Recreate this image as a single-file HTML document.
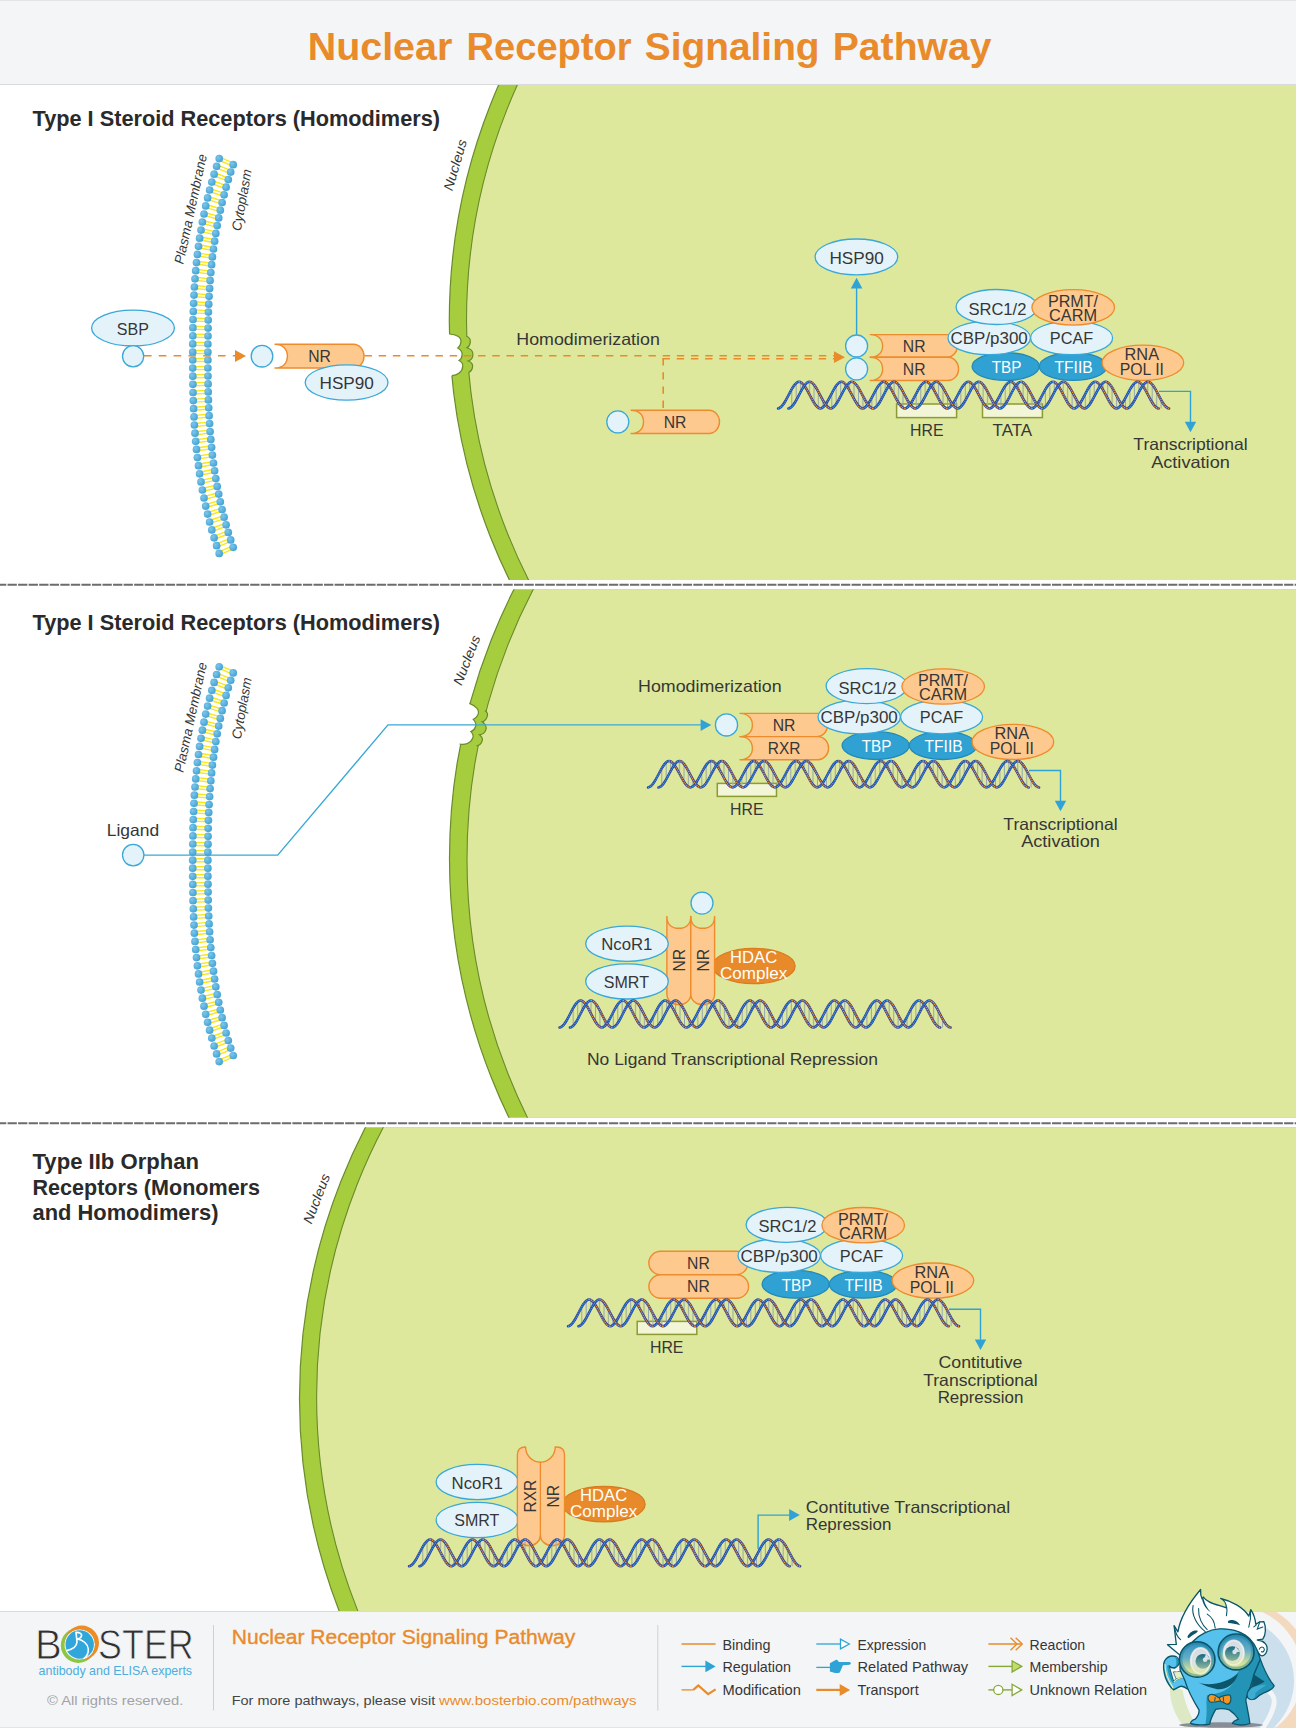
<!DOCTYPE html><html><head><meta charset="utf-8"><title>Nuclear Receptor Signaling Pathway</title><style>html,body{margin:0;padding:0;background:#fff}svg{display:block}</style></head><body><svg width="1296" height="1728" viewBox="0 0 1296 1728" font-family="Liberation Sans, sans-serif">
<defs><radialGradient id="hd" cx="0.35" cy="0.35" r="0.75"><stop offset="0" stop-color="#7cc6ea"/><stop offset="1" stop-color="#3d9fd3"/></radialGradient></defs>
<rect width="1296" height="1728" fill="#fff"/>
<rect x="0" y="0" width="1296" height="84" fill="#f4f5f7"/>
<rect x="0" y="0" width="1296" height="1" fill="#e3e4e6"/>
<rect x="0" y="84" width="1296" height="1" fill="#d9dadc"/>
<text x="307.7" y="60" font-size="39" font-weight="bold" fill="#e98b2a" textLength="144.6" lengthAdjust="spacingAndGlyphs">Nuclear</text>
<text x="466.6" y="60" font-size="39" font-weight="bold" fill="#e98b2a" textLength="165.0" lengthAdjust="spacingAndGlyphs">Receptor</text>
<text x="644.8" y="60" font-size="39" font-weight="bold" fill="#e98b2a" textLength="174.8" lengthAdjust="spacingAndGlyphs">Signaling</text>
<text x="832.8" y="60" font-size="39" font-weight="bold" fill="#e98b2a" textLength="158.6" lengthAdjust="spacingAndGlyphs">Pathway</text>
<line x1="-3" y1="584.7" x2="1296" y2="584.7" stroke="#6c6c6c" stroke-width="2.1" stroke-dasharray="9.3 1.25"/>
<line x1="-3" y1="1123.2" x2="1296" y2="1123.2" stroke="#6c6c6c" stroke-width="2.1" stroke-dasharray="9.3 1.25"/>
<clipPath id="c1"><rect x="0" y="85" width="1296" height="495"/></clipPath>
<g clip-path="url(#c1)">
<circle cx="1037.8" cy="320.8" r="588.5" fill="#a5cd3e" stroke="#6a8b2b" stroke-width="1.2"/>
<circle cx="1038.5" cy="320.7" r="572" fill="#dde89c" stroke="#6a8b2b" stroke-width="1.1"/>
</g>
<clipPath id="c2"><rect x="0" y="589.2" width="1296" height="528.5999999999999"/></clipPath>
<g clip-path="url(#c2)">
<circle cx="1043.5" cy="858.6" r="594" fill="#a5cd3e" stroke="#6a8b2b" stroke-width="1.2"/>
<circle cx="1049.3" cy="859.2" r="582.3" fill="#dde89c" stroke="#6a8b2b" stroke-width="1.1"/>
</g>
<clipPath id="c3"><rect x="0" y="1127.3" width="1296" height="484.10000000000014"/></clipPath>
<g clip-path="url(#c3)">
<circle cx="889.4" cy="1398.4" r="589.9" fill="#a5cd3e" stroke="#6a8b2b" stroke-width="1.2"/>
<circle cx="893.5" cy="1396.8" r="576.9" fill="#dde89c" stroke="#6a8b2b" stroke-width="1.1"/>
</g>
<g>
<path d="M449.3,334 C456,334.4 461.6,337 460.9,342.3 C460.5,345 459.2,347 457.8,348 C461,350 462.3,352 462.1,354.5 C462,357.2 461,359.3 459.1,360.5 C462,362 463,364 462.8,366.4 C462.5,372 457,375.2 451.9,375.7 L438,377 L438,333 Z" fill="#fff"/>
<path d="M449.3,334 C456,334.4 461.6,337 460.9,342.3 C460.5,345 459.2,347 457.8,348 C461,350 462.3,352 462.1,354.5 C462,357.2 461,359.3 459.1,360.5 C462,362 463,364 462.8,366.4 C462.5,372 457,375.2 451.9,375.7" fill="none" stroke="#6a8b2b" stroke-width="1.2"/>
<path d="M466.4,336.2 C469,337 470.6,339.5 470.3,342.1 C470,345 468.6,347 467,347.8 C471,349 473,351.5 472.9,354.5 C472.9,357.5 471,360 468.2,361 C471,362 472.8,364 472.6,366.4 C472.4,369.5 470.6,371.5 468.7,372.4 L464,372.4 L463,336.2 Z" fill="#a5cd3e"/>
<path d="M466.4,336.2 C469,337 470.6,339.5 470.3,342.1 C470,345 468.6,347 467,347.8 C471,349 473,351.5 472.9,354.5 C472.9,357.5 471,360 468.2,361 C471,362 472.8,364 472.6,366.4 C472.4,369.5 470.6,371.5 468.7,372.4" fill="none" stroke="#6a8b2b" stroke-width="1.2"/>
</g>
<g transform="translate(472,726.2) rotate(17) translate(-458.6,-355)">
<path d="M449.3,334 C456,334.4 461.6,337 460.9,342.3 C460.5,345 459.2,347 457.8,348 C461,350 462.3,352 462.1,354.5 C462,357.2 461,359.3 459.1,360.5 C462,362 463,364 462.8,366.4 C462.5,372 457,375.2 451.9,375.7 L438,377 L438,333 Z" fill="#fff"/>
<path d="M449.3,334 C456,334.4 461.6,337 460.9,342.3 C460.5,345 459.2,347 457.8,348 C461,350 462.3,352 462.1,354.5 C462,357.2 461,359.3 459.1,360.5 C462,362 463,364 462.8,366.4 C462.5,372 457,375.2 451.9,375.7" fill="none" stroke="#6a8b2b" stroke-width="1.2"/>
<path d="M466.4,336.2 C469,337 470.6,339.5 470.3,342.1 C470,345 468.6,347 467,347.8 C471,349 473,351.5 472.9,354.5 C472.9,357.5 471,360 468.2,361 C471,362 472.8,364 472.6,366.4 C472.4,369.5 470.6,371.5 468.7,372.4 L464,372.4 L463,336.2 Z" fill="#a5cd3e"/>
<path d="M466.4,336.2 C469,337 470.6,339.5 470.3,342.1 C470,345 468.6,347 467,347.8 C471,349 473,351.5 472.9,354.5 C472.9,357.5 471,360 468.2,361 C471,362 472.8,364 472.6,366.4 C472.4,369.5 470.6,371.5 468.7,372.4" fill="none" stroke="#6a8b2b" stroke-width="1.2"/>
</g>
<text x="32.5" y="126.0" font-size="22"  fill="#2a2a2a" textLength="407.5" lengthAdjust="spacingAndGlyphs" font-weight="bold" >Type I Steroid Receptors (Homodimers)</text>
<text x="32.5" y="630.0" font-size="22"  fill="#2a2a2a" textLength="407.5" lengthAdjust="spacingAndGlyphs" font-weight="bold" >Type I Steroid Receptors (Homodimers)</text>
<text x="32.5" y="1169.0" font-size="22"  fill="#2a2a2a" textLength="166.5" lengthAdjust="spacingAndGlyphs" font-weight="bold" >Type IIb Orphan</text>
<text x="32.5" y="1194.5" font-size="22"  fill="#2a2a2a" textLength="227.5" lengthAdjust="spacingAndGlyphs" font-weight="bold" >Receptors (Monomers</text>
<text x="32.5" y="1220.0" font-size="22"  fill="#2a2a2a" textLength="186.0" lengthAdjust="spacingAndGlyphs" font-weight="bold" >and Homodimers)</text>
<path d="M219.7,157.1L233.7,163.3M218.7,160.0L232.7,166.1M217.0,164.9L231.1,170.7M216.1,167.8L230.2,173.6M214.5,172.7L228.8,178.2M213.7,175.6L227.9,181.1M212.2,180.6L226.5,185.8M211.4,183.5L225.7,188.7M210.0,188.6L224.4,193.4M209.2,191.5L223.7,196.3M207.9,196.5L222.5,201.0M207.2,199.4L221.8,203.9M206.0,204.5L220.7,208.7M205.4,207.4L220.0,211.6M204.3,212.5L219.0,216.4M203.7,215.4L218.4,219.3M202.7,220.5L217.5,224.1M202.1,223.5L216.9,227.1M201.2,228.6L216.1,231.9M200.7,231.6L215.6,234.8M199.9,236.7L214.8,239.7M199.4,239.7L214.3,242.7M198.7,244.8L213.7,247.5M198.3,247.8L213.2,250.5M197.6,252.9L212.6,255.4M197.3,255.9L212.3,258.3M196.7,261.1L211.7,263.2M196.4,264.0L211.4,266.2M195.8,269.2L210.9,271.1M195.6,272.2L210.7,274.1M195.1,277.3L210.3,278.9M194.9,280.3L210.0,281.9M194.5,285.5L209.7,286.9M194.3,288.5L209.5,289.9M194.0,293.6L209.2,294.8M193.9,296.6L209.0,297.8M193.6,301.8L208.8,302.7M193.5,304.8L208.7,305.7M193.3,309.9L208.5,310.6M193.2,312.9L208.4,313.6M193.1,318.0L208.3,318.6M193.0,321.0L208.2,321.6M192.9,326.2L208.1,326.6M192.8,329.2L208.0,329.6M192.8,334.3L208.0,334.5M192.8,337.3L208.0,337.5M192.7,342.4L207.9,342.5M192.7,345.4L207.9,345.5M192.7,350.5L207.9,350.5M192.7,353.5L207.9,353.5M192.7,358.5L207.9,358.5M192.7,361.5L207.9,361.5M192.7,366.6L207.9,366.5M192.7,369.6L207.9,369.5M192.8,374.7L208.0,374.5M192.8,377.7L208.0,377.5M192.8,382.8L208.0,382.4M192.9,385.8L208.1,385.4M193.0,391.0L208.2,390.4M193.1,394.0L208.3,393.4M193.2,399.1L208.4,398.4M193.3,402.1L208.5,401.4M193.5,407.2L208.7,406.3M193.6,410.2L208.8,409.3M193.9,415.4L209.0,414.2M194.0,418.4L209.2,417.2M194.3,423.5L209.5,422.1M194.5,426.5L209.7,425.1M194.9,431.7L210.0,430.1M195.1,434.7L210.3,433.1M195.6,439.8L210.7,437.9M195.8,442.8L210.9,440.9M196.4,448.0L211.4,445.8M196.7,450.9L211.7,448.8M197.3,456.1L212.3,453.7M197.6,459.1L212.6,456.6M198.3,464.2L213.2,461.5M198.7,467.2L213.7,464.5M199.4,472.3L214.3,469.3M199.9,475.3L214.8,472.3M200.7,480.4L215.6,477.2M201.2,483.4L216.1,480.1M202.1,488.5L216.9,484.9M202.7,491.5L217.5,487.9M203.7,496.6L218.4,492.7M204.3,499.5L219.0,495.6M205.4,504.6L220.0,500.4M206.0,507.5L220.7,503.3M207.2,512.6L221.8,508.1M207.9,515.5L222.5,511.0M209.2,520.5L223.7,515.7M210.0,523.4L224.4,518.6M211.4,528.5L225.7,523.3M212.2,531.4L226.5,526.2M213.7,536.4L227.9,530.9M214.5,539.3L228.8,533.8M216.1,544.2L230.2,538.4M217.0,547.1L231.1,541.3M218.7,552.0L232.7,545.9M219.7,554.9L233.7,548.7" stroke="#f9e71a" stroke-width="1.45" fill="none"/>
<g fill="url(#hd)"><circle cx="219.2" cy="158.6" r="3.85"/><circle cx="233.2" cy="164.7" r="3.85"/><circle cx="216.6" cy="166.3" r="3.85"/><circle cx="230.7" cy="172.1" r="3.85"/><circle cx="214.1" cy="174.2" r="3.85"/><circle cx="228.3" cy="179.6" r="3.85"/><circle cx="211.8" cy="182.1" r="3.85"/><circle cx="226.1" cy="187.2" r="3.85"/><circle cx="209.6" cy="190.0" r="3.85"/><circle cx="224.1" cy="194.8" r="3.85"/><circle cx="207.6" cy="197.9" r="3.85"/><circle cx="222.1" cy="202.5" r="3.85"/><circle cx="205.7" cy="205.9" r="3.85"/><circle cx="220.3" cy="210.2" r="3.85"/><circle cx="204.0" cy="214.0" r="3.85"/><circle cx="218.7" cy="217.9" r="3.85"/><circle cx="202.4" cy="222.0" r="3.85"/><circle cx="217.2" cy="225.6" r="3.85"/><circle cx="201.0" cy="230.1" r="3.85"/><circle cx="215.8" cy="233.4" r="3.85"/><circle cx="199.6" cy="238.2" r="3.85"/><circle cx="214.6" cy="241.2" r="3.85"/><circle cx="198.5" cy="246.3" r="3.85"/><circle cx="213.5" cy="249.0" r="3.85"/><circle cx="197.4" cy="254.4" r="3.85"/><circle cx="212.4" cy="256.9" r="3.85"/><circle cx="196.5" cy="262.6" r="3.85"/><circle cx="211.6" cy="264.7" r="3.85"/><circle cx="195.7" cy="270.7" r="3.85"/><circle cx="210.8" cy="272.6" r="3.85"/><circle cx="195.0" cy="278.8" r="3.85"/><circle cx="210.1" cy="280.4" r="3.85"/><circle cx="194.4" cy="287.0" r="3.85"/><circle cx="209.6" cy="288.4" r="3.85"/><circle cx="194.0" cy="295.1" r="3.85"/><circle cx="209.1" cy="296.3" r="3.85"/><circle cx="193.6" cy="303.3" r="3.85"/><circle cx="208.7" cy="304.2" r="3.85"/><circle cx="193.3" cy="311.4" r="3.85"/><circle cx="208.4" cy="312.1" r="3.85"/><circle cx="193.0" cy="319.5" r="3.85"/><circle cx="208.2" cy="320.1" r="3.85"/><circle cx="192.9" cy="327.7" r="3.85"/><circle cx="208.1" cy="328.1" r="3.85"/><circle cx="192.8" cy="335.8" r="3.85"/><circle cx="208.0" cy="336.0" r="3.85"/><circle cx="192.7" cy="343.9" r="3.85"/><circle cx="207.9" cy="344.0" r="3.85"/><circle cx="192.7" cy="352.0" r="3.85"/><circle cx="207.9" cy="352.0" r="3.85"/><circle cx="192.7" cy="360.0" r="3.85"/><circle cx="207.9" cy="360.0" r="3.85"/><circle cx="192.7" cy="368.1" r="3.85"/><circle cx="207.9" cy="368.0" r="3.85"/><circle cx="192.8" cy="376.2" r="3.85"/><circle cx="208.0" cy="376.0" r="3.85"/><circle cx="192.9" cy="384.3" r="3.85"/><circle cx="208.1" cy="383.9" r="3.85"/><circle cx="193.0" cy="392.5" r="3.85"/><circle cx="208.2" cy="391.9" r="3.85"/><circle cx="193.3" cy="400.6" r="3.85"/><circle cx="208.4" cy="399.9" r="3.85"/><circle cx="193.6" cy="408.7" r="3.85"/><circle cx="208.7" cy="407.8" r="3.85"/><circle cx="194.0" cy="416.9" r="3.85"/><circle cx="209.1" cy="415.7" r="3.85"/><circle cx="194.4" cy="425.0" r="3.85"/><circle cx="209.6" cy="423.6" r="3.85"/><circle cx="195.0" cy="433.2" r="3.85"/><circle cx="210.1" cy="431.6" r="3.85"/><circle cx="195.7" cy="441.3" r="3.85"/><circle cx="210.8" cy="439.4" r="3.85"/><circle cx="196.5" cy="449.4" r="3.85"/><circle cx="211.6" cy="447.3" r="3.85"/><circle cx="197.4" cy="457.6" r="3.85"/><circle cx="212.4" cy="455.1" r="3.85"/><circle cx="198.5" cy="465.7" r="3.85"/><circle cx="213.5" cy="463.0" r="3.85"/><circle cx="199.6" cy="473.8" r="3.85"/><circle cx="214.6" cy="470.8" r="3.85"/><circle cx="201.0" cy="481.9" r="3.85"/><circle cx="215.8" cy="478.6" r="3.85"/><circle cx="202.4" cy="490.0" r="3.85"/><circle cx="217.2" cy="486.4" r="3.85"/><circle cx="204.0" cy="498.0" r="3.85"/><circle cx="218.7" cy="494.1" r="3.85"/><circle cx="205.7" cy="506.1" r="3.85"/><circle cx="220.3" cy="501.8" r="3.85"/><circle cx="207.6" cy="514.1" r="3.85"/><circle cx="222.1" cy="509.5" r="3.85"/><circle cx="209.6" cy="522.0" r="3.85"/><circle cx="224.1" cy="517.2" r="3.85"/><circle cx="211.8" cy="529.9" r="3.85"/><circle cx="226.1" cy="524.8" r="3.85"/><circle cx="214.1" cy="537.8" r="3.85"/><circle cx="228.3" cy="532.4" r="3.85"/><circle cx="216.6" cy="545.7" r="3.85"/><circle cx="230.7" cy="539.9" r="3.85"/><circle cx="219.2" cy="553.4" r="3.85"/><circle cx="233.2" cy="547.3" r="3.85"/></g>
<path d="M219.7,665.3L233.7,671.5M218.7,668.2L232.7,674.3M217.0,673.1L231.1,678.9M216.1,676.0L230.2,681.8M214.5,680.9L228.8,686.4M213.7,683.8L227.9,689.3M212.2,688.8L226.5,694.0M211.4,691.7L225.7,696.9M210.0,696.8L224.4,701.6M209.2,699.7L223.7,704.5M207.9,704.7L222.5,709.2M207.2,707.6L221.8,712.1M206.0,712.7L220.7,716.9M205.4,715.6L220.0,719.8M204.3,720.7L219.0,724.6M203.7,723.6L218.4,727.5M202.7,728.7L217.5,732.3M202.1,731.7L216.9,735.3M201.2,736.8L216.1,740.1M200.7,739.8L215.6,743.0M199.9,744.9L214.8,747.9M199.4,747.9L214.3,750.9M198.7,753.0L213.7,755.7M198.3,756.0L213.2,758.7M197.6,761.1L212.6,763.6M197.3,764.1L212.3,766.5M196.7,769.3L211.7,771.4M196.4,772.2L211.4,774.4M195.8,777.4L210.9,779.3M195.6,780.4L210.7,782.3M195.1,785.5L210.3,787.1M194.9,788.5L210.0,790.1M194.5,793.7L209.7,795.1M194.3,796.7L209.5,798.1M194.0,801.8L209.2,803.0M193.9,804.8L209.0,806.0M193.6,810.0L208.8,810.9M193.5,813.0L208.7,813.9M193.3,818.1L208.5,818.8M193.2,821.1L208.4,821.8M193.1,826.2L208.3,826.8M193.0,829.2L208.2,829.8M192.9,834.4L208.1,834.8M192.8,837.4L208.0,837.8M192.8,842.5L208.0,842.7M192.8,845.5L208.0,845.7M192.7,850.6L207.9,850.7M192.7,853.6L207.9,853.7M192.7,858.7L207.9,858.7M192.7,861.7L207.9,861.7M192.7,866.7L207.9,866.7M192.7,869.7L207.9,869.7M192.7,874.8L207.9,874.7M192.7,877.8L207.9,877.7M192.8,882.9L208.0,882.7M192.8,885.9L208.0,885.7M192.8,891.0L208.0,890.6M192.9,894.0L208.1,893.6M193.0,899.2L208.2,898.6M193.1,902.2L208.3,901.6M193.2,907.3L208.4,906.6M193.3,910.3L208.5,909.6M193.5,915.4L208.7,914.5M193.6,918.4L208.8,917.5M193.9,923.6L209.0,922.4M194.0,926.6L209.2,925.4M194.3,931.7L209.5,930.3M194.5,934.7L209.7,933.3M194.9,939.9L210.0,938.3M195.1,942.9L210.3,941.3M195.6,948.0L210.7,946.1M195.8,951.0L210.9,949.1M196.4,956.2L211.4,954.0M196.7,959.1L211.7,957.0M197.3,964.3L212.3,961.9M197.6,967.3L212.6,964.8M198.3,972.4L213.2,969.7M198.7,975.4L213.7,972.7M199.4,980.5L214.3,977.5M199.9,983.5L214.8,980.5M200.7,988.6L215.6,985.4M201.2,991.6L216.1,988.3M202.1,996.7L216.9,993.1M202.7,999.7L217.5,996.1M203.7,1004.8L218.4,1000.9M204.3,1007.7L219.0,1003.8M205.4,1012.8L220.0,1008.6M206.0,1015.7L220.7,1011.5M207.2,1020.8L221.8,1016.3M207.9,1023.7L222.5,1019.2M209.2,1028.7L223.7,1023.9M210.0,1031.6L224.4,1026.8M211.4,1036.7L225.7,1031.5M212.2,1039.6L226.5,1034.4M213.7,1044.6L227.9,1039.1M214.5,1047.5L228.8,1042.0M216.1,1052.4L230.2,1046.6M217.0,1055.3L231.1,1049.5M218.7,1060.2L232.7,1054.1M219.7,1063.1L233.7,1056.9" stroke="#f9e71a" stroke-width="1.45" fill="none"/>
<g fill="url(#hd)"><circle cx="219.2" cy="666.8" r="3.85"/><circle cx="233.2" cy="672.9" r="3.85"/><circle cx="216.6" cy="674.5" r="3.85"/><circle cx="230.7" cy="680.3" r="3.85"/><circle cx="214.1" cy="682.4" r="3.85"/><circle cx="228.3" cy="687.8" r="3.85"/><circle cx="211.8" cy="690.3" r="3.85"/><circle cx="226.1" cy="695.4" r="3.85"/><circle cx="209.6" cy="698.2" r="3.85"/><circle cx="224.1" cy="703.0" r="3.85"/><circle cx="207.6" cy="706.1" r="3.85"/><circle cx="222.1" cy="710.7" r="3.85"/><circle cx="205.7" cy="714.1" r="3.85"/><circle cx="220.3" cy="718.4" r="3.85"/><circle cx="204.0" cy="722.2" r="3.85"/><circle cx="218.7" cy="726.1" r="3.85"/><circle cx="202.4" cy="730.2" r="3.85"/><circle cx="217.2" cy="733.8" r="3.85"/><circle cx="201.0" cy="738.3" r="3.85"/><circle cx="215.8" cy="741.6" r="3.85"/><circle cx="199.6" cy="746.4" r="3.85"/><circle cx="214.6" cy="749.4" r="3.85"/><circle cx="198.5" cy="754.5" r="3.85"/><circle cx="213.5" cy="757.2" r="3.85"/><circle cx="197.4" cy="762.6" r="3.85"/><circle cx="212.4" cy="765.1" r="3.85"/><circle cx="196.5" cy="770.8" r="3.85"/><circle cx="211.6" cy="772.9" r="3.85"/><circle cx="195.7" cy="778.9" r="3.85"/><circle cx="210.8" cy="780.8" r="3.85"/><circle cx="195.0" cy="787.0" r="3.85"/><circle cx="210.1" cy="788.6" r="3.85"/><circle cx="194.4" cy="795.2" r="3.85"/><circle cx="209.6" cy="796.6" r="3.85"/><circle cx="194.0" cy="803.3" r="3.85"/><circle cx="209.1" cy="804.5" r="3.85"/><circle cx="193.6" cy="811.5" r="3.85"/><circle cx="208.7" cy="812.4" r="3.85"/><circle cx="193.3" cy="819.6" r="3.85"/><circle cx="208.4" cy="820.3" r="3.85"/><circle cx="193.0" cy="827.7" r="3.85"/><circle cx="208.2" cy="828.3" r="3.85"/><circle cx="192.9" cy="835.9" r="3.85"/><circle cx="208.1" cy="836.3" r="3.85"/><circle cx="192.8" cy="844.0" r="3.85"/><circle cx="208.0" cy="844.2" r="3.85"/><circle cx="192.7" cy="852.1" r="3.85"/><circle cx="207.9" cy="852.2" r="3.85"/><circle cx="192.7" cy="860.2" r="3.85"/><circle cx="207.9" cy="860.2" r="3.85"/><circle cx="192.7" cy="868.2" r="3.85"/><circle cx="207.9" cy="868.2" r="3.85"/><circle cx="192.7" cy="876.3" r="3.85"/><circle cx="207.9" cy="876.2" r="3.85"/><circle cx="192.8" cy="884.4" r="3.85"/><circle cx="208.0" cy="884.2" r="3.85"/><circle cx="192.9" cy="892.5" r="3.85"/><circle cx="208.1" cy="892.1" r="3.85"/><circle cx="193.0" cy="900.7" r="3.85"/><circle cx="208.2" cy="900.1" r="3.85"/><circle cx="193.3" cy="908.8" r="3.85"/><circle cx="208.4" cy="908.1" r="3.85"/><circle cx="193.6" cy="916.9" r="3.85"/><circle cx="208.7" cy="916.0" r="3.85"/><circle cx="194.0" cy="925.1" r="3.85"/><circle cx="209.1" cy="923.9" r="3.85"/><circle cx="194.4" cy="933.2" r="3.85"/><circle cx="209.6" cy="931.8" r="3.85"/><circle cx="195.0" cy="941.4" r="3.85"/><circle cx="210.1" cy="939.8" r="3.85"/><circle cx="195.7" cy="949.5" r="3.85"/><circle cx="210.8" cy="947.6" r="3.85"/><circle cx="196.5" cy="957.6" r="3.85"/><circle cx="211.6" cy="955.5" r="3.85"/><circle cx="197.4" cy="965.8" r="3.85"/><circle cx="212.4" cy="963.3" r="3.85"/><circle cx="198.5" cy="973.9" r="3.85"/><circle cx="213.5" cy="971.2" r="3.85"/><circle cx="199.6" cy="982.0" r="3.85"/><circle cx="214.6" cy="979.0" r="3.85"/><circle cx="201.0" cy="990.1" r="3.85"/><circle cx="215.8" cy="986.8" r="3.85"/><circle cx="202.4" cy="998.2" r="3.85"/><circle cx="217.2" cy="994.6" r="3.85"/><circle cx="204.0" cy="1006.2" r="3.85"/><circle cx="218.7" cy="1002.3" r="3.85"/><circle cx="205.7" cy="1014.3" r="3.85"/><circle cx="220.3" cy="1010.0" r="3.85"/><circle cx="207.6" cy="1022.3" r="3.85"/><circle cx="222.1" cy="1017.7" r="3.85"/><circle cx="209.6" cy="1030.2" r="3.85"/><circle cx="224.1" cy="1025.4" r="3.85"/><circle cx="211.8" cy="1038.1" r="3.85"/><circle cx="226.1" cy="1033.0" r="3.85"/><circle cx="214.1" cy="1046.0" r="3.85"/><circle cx="228.3" cy="1040.6" r="3.85"/><circle cx="216.6" cy="1053.9" r="3.85"/><circle cx="230.7" cy="1048.1" r="3.85"/><circle cx="219.2" cy="1061.6" r="3.85"/><circle cx="233.2" cy="1055.5" r="3.85"/></g>
<text transform="translate(183.3,264.8) rotate(-77.8)" font-size="13.5" font-style="italic" fill="#363636" textLength="112" lengthAdjust="spacingAndGlyphs">Plasma Membrane</text>
<text transform="translate(240.7,231.6) rotate(-79.7)" font-size="13.5" font-style="italic" fill="#363636" textLength="62.3" lengthAdjust="spacingAndGlyphs">Cytoplasm</text>
<text transform="translate(183.3,773.0) rotate(-77.8)" font-size="13.5" font-style="italic" fill="#363636" textLength="112" lengthAdjust="spacingAndGlyphs">Plasma Membrane</text>
<text transform="translate(240.7,739.8) rotate(-79.7)" font-size="13.5" font-style="italic" fill="#363636" textLength="62.3" lengthAdjust="spacingAndGlyphs">Cytoplasm</text>
<text transform="translate(452.3,191.5) rotate(-73.7)" font-size="13.5" font-style="italic" fill="#363636" textLength="52.5" lengthAdjust="spacingAndGlyphs">Nucleus</text>
<text transform="translate(461.4,686.3) rotate(-68.5)" font-size="13.5" font-style="italic" fill="#363636" textLength="52.5" lengthAdjust="spacingAndGlyphs">Nucleus</text>
<text transform="translate(311.6,1224.8) rotate(-69)" font-size="13.5" font-style="italic" fill="#363636" textLength="52.3" lengthAdjust="spacingAndGlyphs">Nucleus</text>
<line x1="144" y1="355.8" x2="236" y2="355.8" stroke="#e98b2a" stroke-width="1.6" stroke-dasharray="7.6 7.2"/>
<polygon points="246.0,355.9 235.0,349.9 235.0,361.9" fill="#e98b2a"/>
<ellipse cx="133.0" cy="328.1" rx="41.4" ry="17.9" fill="#e4f3fa" stroke="#39a8d8" stroke-width="1.3"/>
<text x="132.8" y="335.2" font-size="16.5" text-anchor="middle" fill="#363636" textLength="32.1" lengthAdjust="spacingAndGlyphs" >SBP</text>
<circle cx="133.1" cy="356.2" r="10.6" fill="#e4f3fa" stroke="#39a8d8" stroke-width="1.3"/>
<circle cx="262.0" cy="356.2" r="10.8" fill="#e4f3fa" stroke="#39a8d8" stroke-width="1.3"/>
<path d="M275.0,344.3L353.5,344.3A10.5,11.85 0 0 1 353.5,368.0L275.0,368.0C283.0,368.0 287.4,363.0 287.4,356.1C287.4,349.3 283.0,344.3 275.0,344.3Z" fill="#fdc98f" stroke="#ee8b2c" stroke-width="1.4" stroke-linejoin="round"/>
<text x="319.5" y="362.3" font-size="16.5" text-anchor="middle" fill="#363636" textLength="22.7" lengthAdjust="spacingAndGlyphs" >NR</text>
<ellipse cx="346.6" cy="382.5" rx="41.4" ry="17.7" fill="#e4f3fa" stroke="#39a8d8" stroke-width="1.3"/>
<text x="346.7" y="389.3" font-size="16.5" text-anchor="middle" fill="#363636" textLength="54.3" lengthAdjust="spacingAndGlyphs" >HSP90</text>
<line x1="364.5" y1="355.7" x2="835" y2="355.7" stroke="#e98b2a" stroke-width="1.6" stroke-dasharray="7.4 6.8"/>
<line x1="662.5" y1="358.7" x2="835" y2="358.7" stroke="#e98b2a" stroke-width="1.6" stroke-dasharray="7.4 6.8"/>
<line x1="663.2" y1="358" x2="663.2" y2="409.5" stroke="#e98b2a" stroke-width="1.6" stroke-dasharray="7.4 6.8"/>
<polygon points="845.0,357.2 834.0,351.3 834.0,363.1" fill="#e98b2a"/>
<text x="516.3" y="344.6" font-size="16.5"  fill="#363636" textLength="143.5" lengthAdjust="spacingAndGlyphs" >Homodimerization</text>
<circle cx="617.8" cy="421.9" r="11.0" fill="#e4f3fa" stroke="#39a8d8" stroke-width="1.3"/>
<path d="M631.1,410.2L709.0,410.2A10.5,11.65 0 0 1 709.0,433.5L631.1,433.5C639.1,433.5 643.5,428.5 643.5,421.9C643.5,415.2 639.1,410.2 631.1,410.2Z" fill="#fdc98f" stroke="#ee8b2c" stroke-width="1.4" stroke-linejoin="round"/>
<text x="675.0" y="428.0" font-size="16.5" text-anchor="middle" fill="#363636" textLength="22.7" lengthAdjust="spacingAndGlyphs" >NR</text>
<ellipse cx="856.4" cy="256.9" rx="41.3" ry="17.9" fill="#e4f3fa" stroke="#39a8d8" stroke-width="1.3"/>
<text x="856.6" y="263.7" font-size="16.5" text-anchor="middle" fill="#363636" textLength="54.3" lengthAdjust="spacingAndGlyphs" >HSP90</text>
<line x1="856.6" y1="335" x2="856.6" y2="288" stroke="#2fa3d6" stroke-width="1.4"/>
<polygon points="856.6,277.8 850.8,288.4 862.4,288.4" fill="#2fa3d6"/>
<rect x="896.6" y="404.0" width="60.0" height="13.6" fill="#f2f5d6" stroke="#8c9b32" stroke-width="1.5"/>
<rect x="982.5" y="404.0" width="59.9" height="13.6" fill="#f2f5d6" stroke="#8c9b32" stroke-width="1.5"/>
<text x="926.8" y="436.4" font-size="16.5" text-anchor="middle" fill="#363636" textLength="33.4" lengthAdjust="spacingAndGlyphs" >HRE</text>
<text x="1012.3" y="436.4" font-size="16.5" text-anchor="middle" fill="#363636" textLength="39.5" lengthAdjust="spacingAndGlyphs" >TATA</text>
<path d="M870.2,334.6L946.9,334.6A10.5,11.35 0 0 1 946.9,357.3L870.2,357.3C878.2,357.3 882.6,352.3 882.6,346.0C882.6,339.6 878.2,334.6 870.2,334.6Z" fill="#fdc98f" stroke="#ee8b2c" stroke-width="1.4" stroke-linejoin="round"/>
<text x="914.2" y="351.9" font-size="16.5" text-anchor="middle" fill="#363636" textLength="22.7" lengthAdjust="spacingAndGlyphs" >NR</text>
<path d="M870.2,357.3L948.1,357.3A10.5,11.60 0 0 1 948.1,380.5L870.2,380.5C878.2,380.5 882.6,375.5 882.6,368.9C882.6,362.3 878.2,357.3 870.2,357.3Z" fill="#fdc98f" stroke="#ee8b2c" stroke-width="1.4" stroke-linejoin="round"/>
<text x="914.2" y="375.0" font-size="16.5" text-anchor="middle" fill="#363636" textLength="22.7" lengthAdjust="spacingAndGlyphs" >NR</text>
<circle cx="856.6" cy="346.0" r="11.0" fill="#e4f3fa" stroke="#39a8d8" stroke-width="1.3"/>
<circle cx="856.6" cy="368.9" r="11.0" fill="#e4f3fa" stroke="#39a8d8" stroke-width="1.3"/>
<ellipse cx="1005.7" cy="366.5" rx="33.6" ry="13.9" fill="#2fa2d3" stroke="#2489b6" stroke-width="1.3"/>
<text x="1006.5" y="372.7" font-size="16.5" text-anchor="middle" fill="#fff" textLength="29.7" lengthAdjust="spacingAndGlyphs" >TBP</text>
<ellipse cx="1073.1" cy="366.5" rx="33.8" ry="13.9" fill="#2fa2d3" stroke="#2489b6" stroke-width="1.3"/>
<text x="1073.6" y="372.7" font-size="16.5" text-anchor="middle" fill="#fff" textLength="38.1" lengthAdjust="spacingAndGlyphs" >TFIIB</text>
<ellipse cx="989.2" cy="337.9" rx="41.2" ry="16.8" fill="#e4f3fa" stroke="#39a8d8" stroke-width="1.3"/>
<text x="989.2" y="344.2" font-size="16.5" text-anchor="middle" fill="#363636" textLength="77.2" lengthAdjust="spacingAndGlyphs" >CBP/p300</text>
<ellipse cx="1071.6" cy="337.9" rx="41.0" ry="16.8" fill="#e4f3fa" stroke="#39a8d8" stroke-width="1.3"/>
<text x="1071.5" y="344.2" font-size="16.5" text-anchor="middle" fill="#363636" textLength="43.5" lengthAdjust="spacingAndGlyphs" >PCAF</text>
<ellipse cx="996.7" cy="307.0" rx="40.6" ry="17.5" fill="#e4f3fa" stroke="#39a8d8" stroke-width="1.3"/>
<text x="997.4" y="314.5" font-size="16.5" text-anchor="middle" fill="#363636" textLength="58.0" lengthAdjust="spacingAndGlyphs" >SRC1/2</text>
<ellipse cx="1073.2" cy="307.4" rx="41.3" ry="17.7" fill="#fdc98f" stroke="#ee8b2c" stroke-width="1.3"/>
<text x="1073.0" y="307.1" font-size="16.5" text-anchor="middle" fill="#363636" textLength="50.2" lengthAdjust="spacingAndGlyphs" >PRMT/</text>
<text x="1073.0" y="320.7" font-size="16.5" text-anchor="middle" fill="#363636" textLength="48.1" lengthAdjust="spacingAndGlyphs" >CARM</text>
<ellipse cx="1142.9" cy="362.8" rx="40.8" ry="17.6" fill="#fdc98f" stroke="#ee8b2c" stroke-width="1.3"/>
<text x="1141.8" y="359.8" font-size="16.5" text-anchor="middle" fill="#363636" textLength="34.5" lengthAdjust="spacingAndGlyphs" >RNA</text>
<text x="1141.8" y="374.7" font-size="16.5" text-anchor="middle" fill="#363636" textLength="44.3" lengthAdjust="spacingAndGlyphs" >POL II</text>
<path d="M1159,391.4H1190.5V422" fill="none" stroke="#2fa3d6" stroke-width="1.4"/>
<polygon points="1190.5,432.2 1184.8,421.7 1196.2,421.7" fill="#2fa3d6"/>
<path d="M791.7,389.1V406.8M800.6,382.1V391.9M809.5,394.6V381.8M818.4,407.8V391.7M827.3,401.8V406.7M836.2,385.6V404.2M845.1,383.7V387.9M854.0,398.9V382.4M862.9,408.3V396.0M871.8,397.7V408.1M880.7,383.1V400.6M898.5,402.8V384.4M907.4,407.4V400.2M916.3,393.4V408.2M925.2,381.9V396.4M934.1,390.2V382.6M943.0,405.8V387.6M960.8,389.3V406.9M969.7,382.0V392.1M978.6,394.4V381.8M987.5,407.8V391.5M996.4,402.0V406.6M1005.3,385.7V404.3M1014.2,383.6V388.1M1023.1,398.7V382.4M1032.0,408.3V395.8M1040.9,397.9V408.1M1049.8,383.2V400.7M1067.6,402.6V384.3M1076.5,407.5V400.0M1085.4,393.6V408.2M1094.3,381.9V396.6M1103.2,390.0V382.6M1112.1,405.7V387.4M1129.9,389.5V407.0M1138.8,382.0V392.3M1147.7,394.2V381.8M1156.6,407.7V391.3" stroke="#a7b69f" stroke-width="1.3" fill="none"/>
<path d="M796.2,383.0V400.5M814.0,402.9V384.5M822.9,407.4V400.3M831.8,393.3V408.2M840.7,381.8V396.3M849.6,390.3V382.5M858.5,405.9V387.6M876.3,389.2V406.8M885.2,382.0V392.0M894.1,394.5V381.8M903.0,407.8V391.6M911.9,401.9V406.6M920.8,385.7V404.2M929.7,383.6V388.0M938.6,398.8V382.4M947.5,408.3V395.9M956.4,397.8V408.1M965.3,383.1V400.6M983.1,402.7V384.4M992.0,407.5V400.1M1000.9,393.5V408.2M1009.8,381.9V396.5M1018.7,390.1V382.6M1027.6,405.8V387.5M1045.4,389.4V406.9M1054.3,382.0V392.2M1063.2,394.3V381.8M1072.1,407.7V391.4M1081.0,402.0V406.5M1089.9,385.8V404.4M1098.8,383.5V388.1M1107.7,398.6V382.3M1116.6,408.3V395.7M1125.5,398.0V408.1M1134.4,383.2V400.8M1152.2,402.5V384.3M1161.1,408.4V399.9" stroke="#8b9fb4" stroke-width="0.9" fill="none"/>
<path d="M778.0,408.4C785.7,408.4 791.4,381.8 799.1,381.8C806.9,381.8 812.6,408.4 820.3,408.4C828.0,408.4 833.7,381.8 841.4,381.8C849.2,381.8 854.9,408.4 862.6,408.4C870.3,408.4 876.0,381.8 883.8,381.8C891.5,381.8 897.2,408.4 904.9,408.4C912.6,408.4 918.3,381.8 926.0,381.8C933.8,381.8 939.5,408.4 947.2,408.4C954.9,408.4 960.6,381.8 968.4,381.8C976.1,381.8 981.8,408.4 989.5,408.4C997.2,408.4 1002.9,381.8 1010.6,381.8C1018.4,381.8 1024.1,408.4 1031.8,408.4C1039.5,408.4 1045.2,381.8 1053.0,381.8C1060.7,381.8 1066.4,408.4 1074.1,408.4C1081.8,408.4 1087.5,381.8 1095.2,381.8C1103.0,381.8 1108.7,408.4 1116.4,408.4C1124.1,408.4 1129.8,381.8 1137.6,381.8C1145.3,381.8 1151.0,408.4 1158.7,408.4" stroke="#2d419d" stroke-width="2.5" fill="none" stroke-linecap="round"/>
<path d="M778.0,408.4C785.7,408.4 791.4,381.8 799.1,381.8M820.3,408.4C828.0,408.4 833.7,381.8 841.4,381.8M862.6,408.4C870.3,408.4 876.0,381.8 883.8,381.8M904.9,408.4C912.6,408.4 918.3,381.8 926.0,381.8M947.2,408.4C954.9,408.4 960.6,381.8 968.4,381.8M989.5,408.4C997.2,408.4 1002.9,381.8 1010.6,381.8M1031.8,408.4C1039.5,408.4 1045.2,381.8 1053.0,381.8M1074.1,408.4C1081.8,408.4 1087.5,381.8 1095.2,381.8M1116.4,408.4C1124.1,408.4 1129.8,381.8 1137.6,381.8" stroke="#3596e3" stroke-width="1.5" fill="none" stroke-dasharray="1.2 0.8" stroke-dashoffset="-4"/>
<path d="M799.1,381.8C806.9,381.8 812.6,408.4 820.3,408.4M841.4,381.8C849.2,381.8 854.9,408.4 862.6,408.4M883.8,381.8C891.5,381.8 897.2,408.4 904.9,408.4M926.0,381.8C933.8,381.8 939.5,408.4 947.2,408.4M968.4,381.8C976.1,381.8 981.8,408.4 989.5,408.4M1010.6,381.8C1018.4,381.8 1024.1,408.4 1031.8,408.4M1053.0,381.8C1060.7,381.8 1066.4,408.4 1074.1,408.4M1095.2,381.8C1103.0,381.8 1108.7,408.4 1116.4,408.4M1137.6,381.8C1145.3,381.8 1151.0,408.4 1158.7,408.4" stroke="#e88f34" stroke-width="1.5" fill="none" stroke-dasharray="1.2 0.8" stroke-dashoffset="-4"/>
<path d="M788.4,408.4C796.1,408.4 801.8,381.8 809.5,381.8C817.3,381.8 823.0,408.4 830.7,408.4C838.4,408.4 844.1,381.8 851.8,381.8C859.6,381.8 865.3,408.4 873.0,408.4C880.7,408.4 886.4,381.8 894.1,381.8C901.9,381.8 907.6,408.4 915.3,408.4C923.0,408.4 928.7,381.8 936.4,381.8C944.2,381.8 949.9,408.4 957.6,408.4C965.3,408.4 971.0,381.8 978.7,381.8C986.5,381.8 992.2,408.4 999.9,408.4C1007.6,408.4 1013.3,381.8 1021.0,381.8C1028.8,381.8 1034.5,408.4 1042.2,408.4C1049.9,408.4 1055.6,381.8 1063.4,381.8C1071.1,381.8 1076.8,408.4 1084.5,408.4C1092.2,408.4 1097.9,381.8 1105.7,381.8C1113.4,381.8 1119.1,408.4 1126.8,408.4C1134.5,408.4 1140.2,381.8 1148.0,381.8C1155.7,381.8 1161.4,408.4 1169.1,408.4" stroke="#2d419d" stroke-width="2.5" fill="none" stroke-linecap="round"/>
<path d="M788.4,408.4C796.1,408.4 801.8,381.8 809.5,381.8M830.7,408.4C838.4,408.4 844.1,381.8 851.8,381.8M873.0,408.4C880.7,408.4 886.4,381.8 894.1,381.8M915.3,408.4C923.0,408.4 928.7,381.8 936.4,381.8M957.6,408.4C965.3,408.4 971.0,381.8 978.7,381.8M999.9,408.4C1007.6,408.4 1013.3,381.8 1021.0,381.8M1042.2,408.4C1049.9,408.4 1055.6,381.8 1063.4,381.8M1084.5,408.4C1092.2,408.4 1097.9,381.8 1105.7,381.8M1126.8,408.4C1134.5,408.4 1140.2,381.8 1148.0,381.8" stroke="#3596e3" stroke-width="1.5" fill="none" stroke-dasharray="1.2 0.8" stroke-dashoffset="-4"/>
<path d="M809.5,381.8C817.3,381.8 823.0,408.4 830.7,408.4M851.8,381.8C859.6,381.8 865.3,408.4 873.0,408.4M894.1,381.8C901.9,381.8 907.6,408.4 915.3,408.4M936.4,381.8C944.2,381.8 949.9,408.4 957.6,408.4M978.7,381.8C986.5,381.8 992.2,408.4 999.9,408.4M1021.0,381.8C1028.8,381.8 1034.5,408.4 1042.2,408.4M1063.4,381.8C1071.1,381.8 1076.8,408.4 1084.5,408.4M1105.7,381.8C1113.4,381.8 1119.1,408.4 1126.8,408.4M1148.0,381.8C1155.7,381.8 1161.4,408.4 1169.1,408.4" stroke="#e88f34" stroke-width="1.5" fill="none" stroke-dasharray="1.2 0.8" stroke-dashoffset="-4"/>
<text x="1190.5" y="450.4" font-size="16.5" text-anchor="middle" fill="#363636" textLength="114.3" lengthAdjust="spacingAndGlyphs" >Transcriptional</text>
<text x="1190.5" y="467.9" font-size="16.5" text-anchor="middle" fill="#363636" textLength="78.7" lengthAdjust="spacingAndGlyphs" >Activation</text>
<text x="106.8" y="836.3" font-size="16.5"  fill="#363636" textLength="52.3" lengthAdjust="spacingAndGlyphs" >Ligand</text>
<path d="M143.9,855.1H277.7L388,724.9H701" fill="none" stroke="#39a8d8" stroke-width="1.4"/>
<circle cx="133.2" cy="855.1" r="10.7" fill="#e4f3fa" stroke="#39a8d8" stroke-width="1.3"/>
<polygon points="711.3,725.1 700.6,719.2 700.6,731.0" fill="#2fa3d6"/>
<text x="638.1" y="691.5" font-size="16.5"  fill="#363636" textLength="143.5" lengthAdjust="spacingAndGlyphs" >Homodimerization</text>
<circle cx="726.5" cy="724.9" r="11.1" fill="#e4f3fa" stroke="#39a8d8" stroke-width="1.3"/>
<rect x="717.3" y="783.4" width="59.2" height="13.0" fill="#f2f5d6" stroke="#8c9b32" stroke-width="1.5"/>
<text x="746.8" y="815.1" font-size="16.5" text-anchor="middle" fill="#363636" textLength="33.4" lengthAdjust="spacingAndGlyphs" >HRE</text>
<path d="M740.0,713.4L817.1,713.4A10.5,11.60 0 0 1 817.1,736.6L740.0,736.6C748.0,736.6 752.4,731.6 752.4,725.0C752.4,718.4 748.0,713.4 740.0,713.4Z" fill="#fdc98f" stroke="#ee8b2c" stroke-width="1.4" stroke-linejoin="round"/>
<text x="784.1" y="730.8" font-size="16.5" text-anchor="middle" fill="#363636" textLength="22.7" lengthAdjust="spacingAndGlyphs" >NR</text>
<path d="M740.0,736.6L818.1,736.6A10.5,11.55 0 0 1 818.1,759.7L740.0,759.7C748.0,759.7 752.4,754.7 752.4,748.2C752.4,741.6 748.0,736.6 740.0,736.6Z" fill="#fdc98f" stroke="#ee8b2c" stroke-width="1.4" stroke-linejoin="round"/>
<text x="784.1" y="753.9" font-size="16.5" text-anchor="middle" fill="#363636" textLength="32.7" lengthAdjust="spacingAndGlyphs" >RXR</text>
<ellipse cx="875.7" cy="745.6" rx="33.6" ry="13.9" fill="#2fa2d3" stroke="#2489b6" stroke-width="1.3"/>
<text x="876.5" y="751.8" font-size="16.5" text-anchor="middle" fill="#fff" textLength="29.7" lengthAdjust="spacingAndGlyphs" >TBP</text>
<ellipse cx="943.1" cy="745.6" rx="33.8" ry="13.9" fill="#2fa2d3" stroke="#2489b6" stroke-width="1.3"/>
<text x="943.6" y="751.8" font-size="16.5" text-anchor="middle" fill="#fff" textLength="38.1" lengthAdjust="spacingAndGlyphs" >TFIIB</text>
<ellipse cx="859.2" cy="717.0" rx="41.2" ry="16.8" fill="#e4f3fa" stroke="#39a8d8" stroke-width="1.3"/>
<text x="859.2" y="723.3" font-size="16.5" text-anchor="middle" fill="#363636" textLength="77.2" lengthAdjust="spacingAndGlyphs" >CBP/p300</text>
<ellipse cx="941.6" cy="717.0" rx="41.0" ry="16.8" fill="#e4f3fa" stroke="#39a8d8" stroke-width="1.3"/>
<text x="941.5" y="723.3" font-size="16.5" text-anchor="middle" fill="#363636" textLength="43.5" lengthAdjust="spacingAndGlyphs" >PCAF</text>
<ellipse cx="866.7" cy="686.1" rx="40.6" ry="17.5" fill="#e4f3fa" stroke="#39a8d8" stroke-width="1.3"/>
<text x="867.4" y="693.6" font-size="16.5" text-anchor="middle" fill="#363636" textLength="58.0" lengthAdjust="spacingAndGlyphs" >SRC1/2</text>
<ellipse cx="943.2" cy="686.5" rx="41.3" ry="17.7" fill="#fdc98f" stroke="#ee8b2c" stroke-width="1.3"/>
<text x="943.0" y="686.2" font-size="16.5" text-anchor="middle" fill="#363636" textLength="50.2" lengthAdjust="spacingAndGlyphs" >PRMT/</text>
<text x="943.0" y="699.8" font-size="16.5" text-anchor="middle" fill="#363636" textLength="48.1" lengthAdjust="spacingAndGlyphs" >CARM</text>
<ellipse cx="1012.9" cy="741.9" rx="40.8" ry="17.6" fill="#fdc98f" stroke="#ee8b2c" stroke-width="1.3"/>
<text x="1011.8" y="738.9" font-size="16.5" text-anchor="middle" fill="#363636" textLength="34.5" lengthAdjust="spacingAndGlyphs" >RNA</text>
<text x="1011.8" y="753.8" font-size="16.5" text-anchor="middle" fill="#363636" textLength="44.3" lengthAdjust="spacingAndGlyphs" >POL II</text>
<path d="M1029,770.5H1060.5V801.1" fill="none" stroke="#2fa3d6" stroke-width="1.4"/>
<polygon points="1060.5,811.3 1054.8,800.8 1066.2,800.8" fill="#2fa3d6"/>
<path d="M661.7,768.2V785.8M670.6,761.3V771.0M679.5,773.7V761.0M688.4,786.8V770.8M697.3,780.8V785.7M706.2,764.8V783.2M715.1,762.8V767.0M724.0,778.0V761.6M732.9,787.3V775.1M741.8,776.8V787.1M750.7,762.3V779.6M768.5,781.8V763.6M777.4,786.5V779.3M786.3,772.5V787.2M795.2,761.1V775.5M804.1,769.3V761.7M813.0,784.9V766.7M830.8,768.4V785.9M839.7,761.2V771.2M848.6,773.5V761.0M857.5,786.8V770.6M866.4,781.0V785.6M875.3,764.9V783.3M884.2,762.7V767.2M893.1,777.8V761.6M902.0,787.3V774.9M910.9,777.0V787.1M919.8,762.4V779.8M937.6,781.7V763.5M946.5,786.5V779.1M955.4,772.7V787.2M964.3,761.1V775.7M973.2,769.1V761.8M982.1,784.7V766.6M999.9,768.6V786.0M1008.8,761.2V771.4M1017.7,773.3V761.0M1026.6,786.7V770.4" stroke="#a7b69f" stroke-width="1.3" fill="none"/>
<path d="M666.2,762.2V779.5M684.0,781.9V763.7M692.9,786.4V779.3M701.8,772.4V787.2M710.7,761.0V775.4M719.6,769.4V761.7M728.5,784.9V766.8M746.3,768.3V785.8M755.2,761.2V771.1M764.1,773.6V761.0M773.0,786.8V770.7M781.9,780.9V785.7M790.8,764.8V783.3M799.7,762.8V767.1M808.6,777.9V761.6M817.5,787.3V775.0M826.4,776.9V787.1M835.3,762.3V779.7M853.1,781.7V763.6M862.0,786.5V779.2M870.9,772.6V787.2M879.8,761.1V775.6M888.7,769.2V761.8M897.6,784.8V766.6M915.4,768.5V785.9M924.3,761.2V771.3M933.2,773.4V761.0M942.1,786.7V770.5M951.0,781.1V785.6M959.9,765.0V783.4M968.8,762.7V767.3M977.7,777.7V761.5M986.6,787.3V774.8M995.5,777.1V787.1M1004.4,762.4V779.9M1022.2,781.6V763.4M1031.1,787.4V779.0" stroke="#8b9fb4" stroke-width="0.9" fill="none"/>
<path d="M648.0,787.4C655.7,787.4 661.4,761.0 669.1,761.0C676.9,761.0 682.6,787.4 690.3,787.4C698.0,787.4 703.7,761.0 711.4,761.0C719.2,761.0 724.9,787.4 732.6,787.4C740.3,787.4 746.0,761.0 753.8,761.0C761.5,761.0 767.2,787.4 774.9,787.4C782.6,787.4 788.3,761.0 796.0,761.0C803.8,761.0 809.5,787.4 817.2,787.4C824.9,787.4 830.6,761.0 838.4,761.0C846.1,761.0 851.8,787.4 859.5,787.4C867.2,787.4 872.9,761.0 880.6,761.0C888.4,761.0 894.1,787.4 901.8,787.4C909.5,787.4 915.2,761.0 922.9,761.0C930.7,761.0 936.4,787.4 944.1,787.4C951.8,787.4 957.5,761.0 965.2,761.0C973.0,761.0 978.7,787.4 986.4,787.4C994.1,787.4 999.8,761.0 1007.5,761.0C1015.3,761.0 1021.0,787.4 1028.7,787.4" stroke="#2d419d" stroke-width="2.5" fill="none" stroke-linecap="round"/>
<path d="M648.0,787.4C655.7,787.4 661.4,761.0 669.1,761.0M690.3,787.4C698.0,787.4 703.7,761.0 711.4,761.0M732.6,787.4C740.3,787.4 746.0,761.0 753.8,761.0M774.9,787.4C782.6,787.4 788.3,761.0 796.0,761.0M817.2,787.4C824.9,787.4 830.6,761.0 838.4,761.0M859.5,787.4C867.2,787.4 872.9,761.0 880.6,761.0M901.8,787.4C909.5,787.4 915.2,761.0 922.9,761.0M944.1,787.4C951.8,787.4 957.5,761.0 965.2,761.0M986.4,787.4C994.1,787.4 999.8,761.0 1007.5,761.0" stroke="#3596e3" stroke-width="1.5" fill="none" stroke-dasharray="1.2 0.8" stroke-dashoffset="-4"/>
<path d="M669.1,761.0C676.9,761.0 682.6,787.4 690.3,787.4M711.4,761.0C719.2,761.0 724.9,787.4 732.6,787.4M753.8,761.0C761.5,761.0 767.2,787.4 774.9,787.4M796.0,761.0C803.8,761.0 809.5,787.4 817.2,787.4M838.4,761.0C846.1,761.0 851.8,787.4 859.5,787.4M880.6,761.0C888.4,761.0 894.1,787.4 901.8,787.4M922.9,761.0C930.7,761.0 936.4,787.4 944.1,787.4M965.2,761.0C973.0,761.0 978.7,787.4 986.4,787.4M1007.5,761.0C1015.3,761.0 1021.0,787.4 1028.7,787.4" stroke="#e88f34" stroke-width="1.5" fill="none" stroke-dasharray="1.2 0.8" stroke-dashoffset="-4"/>
<path d="M658.4,787.4C666.1,787.4 671.8,761.0 679.5,761.0C687.3,761.0 693.0,787.4 700.7,787.4C708.4,787.4 714.1,761.0 721.8,761.0C729.6,761.0 735.3,787.4 743.0,787.4C750.7,787.4 756.4,761.0 764.1,761.0C771.9,761.0 777.6,787.4 785.3,787.4C793.0,787.4 798.7,761.0 806.4,761.0C814.2,761.0 819.9,787.4 827.6,787.4C835.3,787.4 841.0,761.0 848.7,761.0C856.5,761.0 862.2,787.4 869.9,787.4C877.6,787.4 883.3,761.0 891.0,761.0C898.8,761.0 904.5,787.4 912.2,787.4C919.9,787.4 925.6,761.0 933.3,761.0C941.1,761.0 946.8,787.4 954.5,787.4C962.2,787.4 967.9,761.0 975.6,761.0C983.4,761.0 989.1,787.4 996.8,787.4C1004.5,787.4 1010.2,761.0 1017.9,761.0C1025.7,761.0 1031.4,787.4 1039.1,787.4" stroke="#2d419d" stroke-width="2.5" fill="none" stroke-linecap="round"/>
<path d="M658.4,787.4C666.1,787.4 671.8,761.0 679.5,761.0M700.7,787.4C708.4,787.4 714.1,761.0 721.8,761.0M743.0,787.4C750.7,787.4 756.4,761.0 764.1,761.0M785.3,787.4C793.0,787.4 798.7,761.0 806.4,761.0M827.6,787.4C835.3,787.4 841.0,761.0 848.7,761.0M869.9,787.4C877.6,787.4 883.3,761.0 891.0,761.0M912.2,787.4C919.9,787.4 925.6,761.0 933.3,761.0M954.5,787.4C962.2,787.4 967.9,761.0 975.6,761.0M996.8,787.4C1004.5,787.4 1010.2,761.0 1017.9,761.0" stroke="#3596e3" stroke-width="1.5" fill="none" stroke-dasharray="1.2 0.8" stroke-dashoffset="-4"/>
<path d="M679.5,761.0C687.3,761.0 693.0,787.4 700.7,787.4M721.8,761.0C729.6,761.0 735.3,787.4 743.0,787.4M764.1,761.0C771.9,761.0 777.6,787.4 785.3,787.4M806.4,761.0C814.2,761.0 819.9,787.4 827.6,787.4M848.7,761.0C856.5,761.0 862.2,787.4 869.9,787.4M891.0,761.0C898.8,761.0 904.5,787.4 912.2,787.4M933.3,761.0C941.1,761.0 946.8,787.4 954.5,787.4M975.6,761.0C983.4,761.0 989.1,787.4 996.8,787.4M1017.9,761.0C1025.7,761.0 1031.4,787.4 1039.1,787.4" stroke="#e88f34" stroke-width="1.5" fill="none" stroke-dasharray="1.2 0.8" stroke-dashoffset="-4"/>
<text x="1060.5" y="829.5" font-size="16.5" text-anchor="middle" fill="#363636" textLength="114.3" lengthAdjust="spacingAndGlyphs" >Transcriptional</text>
<text x="1060.5" y="847.0" font-size="16.5" text-anchor="middle" fill="#363636" textLength="78.7" lengthAdjust="spacingAndGlyphs" >Activation</text>
<ellipse cx="753.8" cy="966.0" rx="41.3" ry="17.7" fill="#e88a29" stroke="#d77c20" stroke-width="1.3"/>
<text x="753.6" y="962.8" font-size="16.5" text-anchor="middle" fill="#fff" textLength="47.1" lengthAdjust="spacingAndGlyphs" >HDAC</text>
<text x="753.6" y="978.9" font-size="16.5" text-anchor="middle" fill="#fff" textLength="67.2" lengthAdjust="spacingAndGlyphs" >Complex</text>
<path d="M666.9,916.5C666.9,924.5 671.9,928.3 678.8,928.3C685.8,928.3 690.8,924.5 690.8,916.5L690.8,994.3A11.95,10.5 0 0 1 666.9,994.3Z" fill="#fdc98f" stroke="#ee8b2c" stroke-width="1.4" stroke-linejoin="round"/>
<path d="M690.8,916.5C690.8,924.5 695.8,928.3 702.7,928.3C709.6,928.3 714.6,924.5 714.6,916.5L714.6,994.3A11.90,10.5 0 0 1 690.8,994.3Z" fill="#fdc98f" stroke="#ee8b2c" stroke-width="1.4" stroke-linejoin="round"/>
<ellipse cx="627.0" cy="943.7" rx="41.3" ry="17.6" fill="#e4f3fa" stroke="#39a8d8" stroke-width="1.3"/>
<text x="626.8" y="950.2" font-size="16.5" text-anchor="middle" fill="#363636" textLength="51.2" lengthAdjust="spacingAndGlyphs" >NcoR1</text>
<ellipse cx="627.0" cy="981.4" rx="41.3" ry="17.6" fill="#e4f3fa" stroke="#39a8d8" stroke-width="1.3"/>
<text x="626.4" y="987.7" font-size="16.5" text-anchor="middle" fill="#363636" textLength="45.1" lengthAdjust="spacingAndGlyphs" >SMRT</text>
<text transform="translate(685.3,960.2) rotate(-90)" font-size="16.5" text-anchor="middle" fill="#363636" textLength="22.7" lengthAdjust="spacingAndGlyphs">NR</text>
<text transform="translate(708.9,960.2) rotate(-90)" font-size="16.5" text-anchor="middle" fill="#363636" textLength="22.7" lengthAdjust="spacingAndGlyphs">NR</text>
<circle cx="702.0" cy="903.1" r="11.0" fill="#e4f3fa" stroke="#39a8d8" stroke-width="1.3"/>
<path d="M573.2,1008.1V1026.0M582.1,1001.0V1010.9M591.0,1013.7V1000.7M599.9,1027.0V1010.7M608.8,1020.9V1025.9M617.7,1004.5V1023.3M626.6,1002.6V1006.9M635.5,1018.0V1001.3M644.4,1027.5V1015.0M653.3,1016.8V1027.3M662.2,1002.0V1019.7M680.0,1021.9V1003.4M688.9,1026.6V1019.3M697.8,1012.5V1027.4M706.7,1000.8V1015.4M715.6,1009.2V1001.5M724.5,1025.0V1006.5M742.3,1008.3V1026.1M751.2,1000.9V1011.1M760.1,1013.5V1000.7M769.0,1027.0V1010.5M777.9,1021.1V1025.8M786.8,1004.7V1023.5M795.7,1002.5V1007.0M804.6,1017.8V1001.3M813.5,1027.5V1014.8M822.4,1017.0V1027.3M831.3,1002.1V1019.9M849.1,1021.8V1003.2M858.0,1026.7V1019.1M866.9,1012.7V1027.4M875.8,1000.8V1015.6M884.7,1009.0V1001.5M893.6,1024.9V1006.4M911.4,1008.4V1026.1M920.3,1000.9V1011.3M929.2,1013.3V1000.7M938.1,1026.9V1010.3" stroke="#a7b69f" stroke-width="1.3" fill="none"/>
<path d="M577.7,1002.0V1019.6M595.5,1022.0V1003.4M604.4,1026.6V1019.4M613.3,1012.4V1027.4M622.2,1000.7V1015.3M631.1,1009.3V1001.4M640.0,1025.1V1006.6M657.8,1008.2V1026.0M666.7,1000.9V1011.0M675.6,1013.6V1000.7M684.5,1027.0V1010.6M693.4,1021.0V1025.8M702.3,1004.6V1023.4M711.2,1002.5V1006.9M720.1,1017.9V1001.3M729.0,1027.5V1014.9M737.9,1016.9V1027.3M746.8,1002.1V1019.8M764.6,1021.8V1003.3M773.5,1026.7V1019.2M782.4,1012.6V1027.4M791.3,1000.8V1015.5M800.2,1009.1V1001.5M809.1,1025.0V1006.4M826.9,1008.3V1026.1M835.8,1000.9V1011.2M844.7,1013.4V1000.7M853.6,1026.9V1010.4M862.5,1021.2V1025.7M871.4,1004.7V1023.5M880.3,1002.4V1007.1M889.2,1017.7V1001.2M898.1,1027.5V1014.7M907.0,1017.1V1027.3M915.9,1002.1V1019.9M933.7,1021.7V1003.2M942.6,1027.5V1019.0" stroke="#8b9fb4" stroke-width="0.9" fill="none"/>
<path d="M559.5,1027.5C567.2,1027.5 572.9,1000.6 580.6,1000.6C588.4,1000.6 594.1,1027.5 601.8,1027.5C609.5,1027.5 615.2,1000.6 622.9,1000.6C630.7,1000.6 636.4,1027.5 644.1,1027.5C651.8,1027.5 657.5,1000.6 665.2,1000.6C673.0,1000.6 678.7,1027.5 686.4,1027.5C694.1,1027.5 699.8,1000.6 707.5,1000.6C715.3,1000.6 721.0,1027.5 728.7,1027.5C736.4,1027.5 742.1,1000.6 749.9,1000.6C757.6,1000.6 763.3,1027.5 771.0,1027.5C778.7,1027.5 784.4,1000.6 792.1,1000.6C799.9,1000.6 805.6,1027.5 813.3,1027.5C821.0,1027.5 826.7,1000.6 834.4,1000.6C842.2,1000.6 847.9,1027.5 855.6,1027.5C863.3,1027.5 869.0,1000.6 876.7,1000.6C884.5,1000.6 890.2,1027.5 897.9,1027.5C905.6,1027.5 911.3,1000.6 919.0,1000.6C926.8,1000.6 932.5,1027.5 940.2,1027.5" stroke="#2d419d" stroke-width="2.5" fill="none" stroke-linecap="round"/>
<path d="M559.5,1027.5C567.2,1027.5 572.9,1000.6 580.6,1000.6M601.8,1027.5C609.5,1027.5 615.2,1000.6 622.9,1000.6M644.1,1027.5C651.8,1027.5 657.5,1000.6 665.2,1000.6M686.4,1027.5C694.1,1027.5 699.8,1000.6 707.5,1000.6M728.7,1027.5C736.4,1027.5 742.1,1000.6 749.9,1000.6M771.0,1027.5C778.7,1027.5 784.4,1000.6 792.1,1000.6M813.3,1027.5C821.0,1027.5 826.7,1000.6 834.4,1000.6M855.6,1027.5C863.3,1027.5 869.0,1000.6 876.7,1000.6M897.9,1027.5C905.6,1027.5 911.3,1000.6 919.0,1000.6" stroke="#3596e3" stroke-width="1.5" fill="none" stroke-dasharray="1.2 0.8" stroke-dashoffset="-4"/>
<path d="M580.6,1000.6C588.4,1000.6 594.1,1027.5 601.8,1027.5M622.9,1000.6C630.7,1000.6 636.4,1027.5 644.1,1027.5M665.2,1000.6C673.0,1000.6 678.7,1027.5 686.4,1027.5M707.5,1000.6C715.3,1000.6 721.0,1027.5 728.7,1027.5M749.9,1000.6C757.6,1000.6 763.3,1027.5 771.0,1027.5M792.1,1000.6C799.9,1000.6 805.6,1027.5 813.3,1027.5M834.4,1000.6C842.2,1000.6 847.9,1027.5 855.6,1027.5M876.7,1000.6C884.5,1000.6 890.2,1027.5 897.9,1027.5M919.0,1000.6C926.8,1000.6 932.5,1027.5 940.2,1027.5" stroke="#e88f34" stroke-width="1.5" fill="none" stroke-dasharray="1.2 0.8" stroke-dashoffset="-4"/>
<path d="M569.9,1027.5C577.6,1027.5 583.3,1000.6 591.0,1000.6C598.8,1000.6 604.5,1027.5 612.2,1027.5C619.9,1027.5 625.6,1000.6 633.3,1000.6C641.1,1000.6 646.8,1027.5 654.5,1027.5C662.2,1027.5 667.9,1000.6 675.6,1000.6C683.4,1000.6 689.1,1027.5 696.8,1027.5C704.5,1027.5 710.2,1000.6 717.9,1000.6C725.7,1000.6 731.4,1027.5 739.1,1027.5C746.8,1027.5 752.5,1000.6 760.2,1000.6C768.0,1000.6 773.7,1027.5 781.4,1027.5C789.1,1027.5 794.8,1000.6 802.5,1000.6C810.3,1000.6 816.0,1027.5 823.7,1027.5C831.4,1027.5 837.1,1000.6 844.8,1000.6C852.6,1000.6 858.3,1027.5 866.0,1027.5C873.7,1027.5 879.4,1000.6 887.1,1000.6C894.9,1000.6 900.6,1027.5 908.3,1027.5C916.0,1027.5 921.7,1000.6 929.4,1000.6C937.2,1000.6 942.9,1027.5 950.6,1027.5" stroke="#2d419d" stroke-width="2.5" fill="none" stroke-linecap="round"/>
<path d="M569.9,1027.5C577.6,1027.5 583.3,1000.6 591.0,1000.6M612.2,1027.5C619.9,1027.5 625.6,1000.6 633.3,1000.6M654.5,1027.5C662.2,1027.5 667.9,1000.6 675.6,1000.6M696.8,1027.5C704.5,1027.5 710.2,1000.6 717.9,1000.6M739.1,1027.5C746.8,1027.5 752.5,1000.6 760.2,1000.6M781.4,1027.5C789.1,1027.5 794.8,1000.6 802.5,1000.6M823.7,1027.5C831.4,1027.5 837.1,1000.6 844.8,1000.6M866.0,1027.5C873.7,1027.5 879.4,1000.6 887.1,1000.6M908.3,1027.5C916.0,1027.5 921.7,1000.6 929.4,1000.6" stroke="#3596e3" stroke-width="1.5" fill="none" stroke-dasharray="1.2 0.8" stroke-dashoffset="-4"/>
<path d="M591.0,1000.6C598.8,1000.6 604.5,1027.5 612.2,1027.5M633.3,1000.6C641.1,1000.6 646.8,1027.5 654.5,1027.5M675.6,1000.6C683.4,1000.6 689.1,1027.5 696.8,1027.5M717.9,1000.6C725.7,1000.6 731.4,1027.5 739.1,1027.5M760.2,1000.6C768.0,1000.6 773.7,1027.5 781.4,1027.5M802.5,1000.6C810.3,1000.6 816.0,1027.5 823.7,1027.5M844.8,1000.6C852.6,1000.6 858.3,1027.5 866.0,1027.5M887.1,1000.6C894.9,1000.6 900.6,1027.5 908.3,1027.5M929.4,1000.6C937.2,1000.6 942.9,1027.5 950.6,1027.5" stroke="#e88f34" stroke-width="1.5" fill="none" stroke-dasharray="1.2 0.8" stroke-dashoffset="-4"/>
<text x="587.0" y="1065.2" font-size="16.5"  fill="#363636" textLength="291.0" lengthAdjust="spacingAndGlyphs" >No Ligand Transcriptional Repression</text>
<rect x="637.2" y="1321.4" width="59.6" height="13.0" fill="#f2f5d6" stroke="#8c9b32" stroke-width="1.5"/>
<text x="666.7" y="1353.1" font-size="16.5" text-anchor="middle" fill="#363636" textLength="33.4" lengthAdjust="spacingAndGlyphs" >HRE</text>
<path d="M660.6,1251.2L736.2,1251.2A11.75,11.75 0 0 1 736.2,1274.7L660.6,1274.7A11.75,11.75 0 0 1 660.6,1251.2Z" fill="#fdc98f" stroke="#ee8b2c" stroke-width="1.4" stroke-linejoin="round"/>
<text x="698.4" y="1269.2" font-size="16.5" text-anchor="middle" fill="#363636" textLength="22.7" lengthAdjust="spacingAndGlyphs" >NR</text>
<path d="M660.7,1274.7L736.8,1274.7A11.80,11.80 0 0 1 736.8,1298.3L660.7,1298.3A11.80,11.80 0 0 1 660.7,1274.7Z" fill="#fdc98f" stroke="#ee8b2c" stroke-width="1.4" stroke-linejoin="round"/>
<text x="698.4" y="1292.3" font-size="16.5" text-anchor="middle" fill="#363636" textLength="22.7" lengthAdjust="spacingAndGlyphs" >NR</text>
<ellipse cx="795.7" cy="1284.3" rx="33.6" ry="13.9" fill="#2fa2d3" stroke="#2489b6" stroke-width="1.3"/>
<text x="796.5" y="1290.5" font-size="16.5" text-anchor="middle" fill="#fff" textLength="29.7" lengthAdjust="spacingAndGlyphs" >TBP</text>
<ellipse cx="863.1" cy="1284.3" rx="33.8" ry="13.9" fill="#2fa2d3" stroke="#2489b6" stroke-width="1.3"/>
<text x="863.6" y="1290.5" font-size="16.5" text-anchor="middle" fill="#fff" textLength="38.1" lengthAdjust="spacingAndGlyphs" >TFIIB</text>
<ellipse cx="779.2" cy="1255.7" rx="41.2" ry="16.8" fill="#e4f3fa" stroke="#39a8d8" stroke-width="1.3"/>
<text x="779.2" y="1262.0" font-size="16.5" text-anchor="middle" fill="#363636" textLength="77.2" lengthAdjust="spacingAndGlyphs" >CBP/p300</text>
<ellipse cx="861.6" cy="1255.7" rx="41.0" ry="16.8" fill="#e4f3fa" stroke="#39a8d8" stroke-width="1.3"/>
<text x="861.5" y="1262.0" font-size="16.5" text-anchor="middle" fill="#363636" textLength="43.5" lengthAdjust="spacingAndGlyphs" >PCAF</text>
<ellipse cx="786.7" cy="1224.8" rx="40.6" ry="17.5" fill="#e4f3fa" stroke="#39a8d8" stroke-width="1.3"/>
<text x="787.4" y="1232.3" font-size="16.5" text-anchor="middle" fill="#363636" textLength="58.0" lengthAdjust="spacingAndGlyphs" >SRC1/2</text>
<ellipse cx="863.2" cy="1225.2" rx="41.3" ry="17.7" fill="#fdc98f" stroke="#ee8b2c" stroke-width="1.3"/>
<text x="863.0" y="1224.9" font-size="16.5" text-anchor="middle" fill="#363636" textLength="50.2" lengthAdjust="spacingAndGlyphs" >PRMT/</text>
<text x="863.0" y="1238.5" font-size="16.5" text-anchor="middle" fill="#363636" textLength="48.1" lengthAdjust="spacingAndGlyphs" >CARM</text>
<ellipse cx="932.9" cy="1280.6" rx="40.8" ry="17.6" fill="#fdc98f" stroke="#ee8b2c" stroke-width="1.3"/>
<text x="931.8" y="1277.6" font-size="16.5" text-anchor="middle" fill="#363636" textLength="34.5" lengthAdjust="spacingAndGlyphs" >RNA</text>
<text x="931.8" y="1292.5" font-size="16.5" text-anchor="middle" fill="#363636" textLength="44.3" lengthAdjust="spacingAndGlyphs" >POL II</text>
<path d="M949,1309.1999999999998H980.5V1339.8" fill="none" stroke="#2fa3d6" stroke-width="1.4"/>
<polygon points="980.5,1350.0 974.8,1339.5 986.2,1339.5" fill="#2fa3d6"/>
<path d="M581.7,1306.9V1324.6M590.6,1299.9V1309.7M599.5,1312.4V1299.6M608.4,1325.6V1309.5M617.3,1319.6V1324.5M626.2,1303.4V1322.0M635.1,1301.5V1305.7M644.0,1316.7V1300.2M652.9,1326.1V1313.8M661.8,1315.5V1325.9M670.7,1300.9V1318.4M688.5,1320.6V1302.2M697.4,1325.2V1318.0M706.3,1311.2V1326.0M715.2,1299.7V1314.2M724.1,1308.0V1300.4M733.0,1323.6V1305.4M750.8,1307.1V1324.7M759.7,1299.8V1309.9M768.6,1312.2V1299.6M777.5,1325.6V1309.3M786.4,1319.8V1324.4M795.3,1303.5V1322.1M804.2,1301.4V1305.9M813.1,1316.5V1300.2M822.0,1326.1V1313.6M830.9,1315.7V1325.9M839.8,1301.0V1318.5M857.6,1320.4V1302.1M866.5,1325.3V1317.8M875.4,1311.4V1326.0M884.3,1299.7V1314.4M893.2,1307.8V1300.4M902.1,1323.5V1305.2M919.9,1307.3V1324.8M928.8,1299.8V1310.1M937.7,1312.0V1299.6M946.6,1325.5V1309.1" stroke="#a7b69f" stroke-width="1.3" fill="none"/>
<path d="M586.2,1300.8V1318.3M604.0,1320.7V1302.3M612.9,1325.2V1318.1M621.8,1311.1V1326.0M630.7,1299.6V1314.1M639.6,1308.1V1300.3M648.5,1323.7V1305.4M666.3,1307.0V1324.6M675.2,1299.8V1309.8M684.1,1312.3V1299.6M693.0,1325.6V1309.4M701.9,1319.7V1324.4M710.8,1303.5V1322.0M719.7,1301.4V1305.8M728.6,1316.6V1300.2M737.5,1326.1V1313.7M746.4,1315.6V1325.9M755.3,1300.9V1318.4M773.1,1320.5V1302.2M782.0,1325.3V1317.9M790.9,1311.3V1326.0M799.8,1299.7V1314.3M808.7,1307.9V1300.4M817.6,1323.6V1305.3M835.4,1307.2V1324.7M844.3,1299.8V1310.0M853.2,1312.1V1299.6M862.1,1325.5V1309.2M871.0,1319.8V1324.3M879.9,1303.6V1322.2M888.8,1301.3V1305.9M897.7,1316.4V1300.1M906.6,1326.1V1313.5M915.5,1315.8V1325.9M924.4,1301.0V1318.6M942.2,1320.3V1302.1M951.1,1326.2V1317.7" stroke="#8b9fb4" stroke-width="0.9" fill="none"/>
<path d="M568.0,1326.2C575.7,1326.2 581.4,1299.5 589.1,1299.5C596.9,1299.5 602.6,1326.2 610.3,1326.2C618.0,1326.2 623.7,1299.5 631.4,1299.5C639.2,1299.5 644.9,1326.2 652.6,1326.2C660.3,1326.2 666.0,1299.5 673.8,1299.5C681.5,1299.5 687.2,1326.2 694.9,1326.2C702.6,1326.2 708.3,1299.5 716.0,1299.5C723.8,1299.5 729.5,1326.2 737.2,1326.2C744.9,1326.2 750.6,1299.5 758.4,1299.5C766.1,1299.5 771.8,1326.2 779.5,1326.2C787.2,1326.2 792.9,1299.5 800.6,1299.5C808.4,1299.5 814.1,1326.2 821.8,1326.2C829.5,1326.2 835.2,1299.5 842.9,1299.5C850.7,1299.5 856.4,1326.2 864.1,1326.2C871.8,1326.2 877.5,1299.5 885.2,1299.5C893.0,1299.5 898.7,1326.2 906.4,1326.2C914.1,1326.2 919.8,1299.5 927.5,1299.5C935.3,1299.5 941.0,1326.2 948.7,1326.2" stroke="#2d419d" stroke-width="2.5" fill="none" stroke-linecap="round"/>
<path d="M568.0,1326.2C575.7,1326.2 581.4,1299.5 589.1,1299.5M610.3,1326.2C618.0,1326.2 623.7,1299.5 631.4,1299.5M652.6,1326.2C660.3,1326.2 666.0,1299.5 673.8,1299.5M694.9,1326.2C702.6,1326.2 708.3,1299.5 716.0,1299.5M737.2,1326.2C744.9,1326.2 750.6,1299.5 758.4,1299.5M779.5,1326.2C787.2,1326.2 792.9,1299.5 800.6,1299.5M821.8,1326.2C829.5,1326.2 835.2,1299.5 842.9,1299.5M864.1,1326.2C871.8,1326.2 877.5,1299.5 885.2,1299.5M906.4,1326.2C914.1,1326.2 919.8,1299.5 927.5,1299.5" stroke="#3596e3" stroke-width="1.5" fill="none" stroke-dasharray="1.2 0.8" stroke-dashoffset="-4"/>
<path d="M589.1,1299.5C596.9,1299.5 602.6,1326.2 610.3,1326.2M631.4,1299.5C639.2,1299.5 644.9,1326.2 652.6,1326.2M673.8,1299.5C681.5,1299.5 687.2,1326.2 694.9,1326.2M716.0,1299.5C723.8,1299.5 729.5,1326.2 737.2,1326.2M758.4,1299.5C766.1,1299.5 771.8,1326.2 779.5,1326.2M800.6,1299.5C808.4,1299.5 814.1,1326.2 821.8,1326.2M842.9,1299.5C850.7,1299.5 856.4,1326.2 864.1,1326.2M885.2,1299.5C893.0,1299.5 898.7,1326.2 906.4,1326.2M927.5,1299.5C935.3,1299.5 941.0,1326.2 948.7,1326.2" stroke="#e88f34" stroke-width="1.5" fill="none" stroke-dasharray="1.2 0.8" stroke-dashoffset="-4"/>
<path d="M578.4,1326.2C586.1,1326.2 591.8,1299.5 599.5,1299.5C607.3,1299.5 613.0,1326.2 620.7,1326.2C628.4,1326.2 634.1,1299.5 641.8,1299.5C649.6,1299.5 655.3,1326.2 663.0,1326.2C670.7,1326.2 676.4,1299.5 684.1,1299.5C691.9,1299.5 697.6,1326.2 705.3,1326.2C713.0,1326.2 718.7,1299.5 726.4,1299.5C734.2,1299.5 739.9,1326.2 747.6,1326.2C755.3,1326.2 761.0,1299.5 768.7,1299.5C776.5,1299.5 782.2,1326.2 789.9,1326.2C797.6,1326.2 803.3,1299.5 811.0,1299.5C818.8,1299.5 824.5,1326.2 832.2,1326.2C839.9,1326.2 845.6,1299.5 853.3,1299.5C861.1,1299.5 866.8,1326.2 874.5,1326.2C882.2,1326.2 887.9,1299.5 895.6,1299.5C903.4,1299.5 909.1,1326.2 916.8,1326.2C924.5,1326.2 930.2,1299.5 937.9,1299.5C945.7,1299.5 951.4,1326.2 959.1,1326.2" stroke="#2d419d" stroke-width="2.5" fill="none" stroke-linecap="round"/>
<path d="M578.4,1326.2C586.1,1326.2 591.8,1299.5 599.5,1299.5M620.7,1326.2C628.4,1326.2 634.1,1299.5 641.8,1299.5M663.0,1326.2C670.7,1326.2 676.4,1299.5 684.1,1299.5M705.3,1326.2C713.0,1326.2 718.7,1299.5 726.4,1299.5M747.6,1326.2C755.3,1326.2 761.0,1299.5 768.7,1299.5M789.9,1326.2C797.6,1326.2 803.3,1299.5 811.0,1299.5M832.2,1326.2C839.9,1326.2 845.6,1299.5 853.3,1299.5M874.5,1326.2C882.2,1326.2 887.9,1299.5 895.6,1299.5M916.8,1326.2C924.5,1326.2 930.2,1299.5 937.9,1299.5" stroke="#3596e3" stroke-width="1.5" fill="none" stroke-dasharray="1.2 0.8" stroke-dashoffset="-4"/>
<path d="M599.5,1299.5C607.3,1299.5 613.0,1326.2 620.7,1326.2M641.8,1299.5C649.6,1299.5 655.3,1326.2 663.0,1326.2M684.1,1299.5C691.9,1299.5 697.6,1326.2 705.3,1326.2M726.4,1299.5C734.2,1299.5 739.9,1326.2 747.6,1326.2M768.7,1299.5C776.5,1299.5 782.2,1326.2 789.9,1326.2M811.0,1299.5C818.8,1299.5 824.5,1326.2 832.2,1326.2M853.3,1299.5C861.1,1299.5 866.8,1326.2 874.5,1326.2M895.6,1299.5C903.4,1299.5 909.1,1326.2 916.8,1326.2M937.9,1299.5C945.7,1299.5 951.4,1326.2 959.1,1326.2" stroke="#e88f34" stroke-width="1.5" fill="none" stroke-dasharray="1.2 0.8" stroke-dashoffset="-4"/>
<text x="980.5" y="1367.8" font-size="16.5" text-anchor="middle" fill="#363636" textLength="84.0" lengthAdjust="spacingAndGlyphs" >Contitutive</text>
<text x="980.5" y="1385.6" font-size="16.5" text-anchor="middle" fill="#363636" textLength="114.6" lengthAdjust="spacingAndGlyphs" >Transcriptional</text>
<text x="980.5" y="1402.7" font-size="16.5" text-anchor="middle" fill="#363636" textLength="85.7" lengthAdjust="spacingAndGlyphs" >Repression</text>
<ellipse cx="477.2" cy="1482.0" rx="41.1" ry="17.6" fill="#e4f3fa" stroke="#39a8d8" stroke-width="1.3"/>
<text x="477.2" y="1488.5" font-size="16.5" text-anchor="middle" fill="#363636" textLength="51.2" lengthAdjust="spacingAndGlyphs" >NcoR1</text>
<ellipse cx="477.2" cy="1520.0" rx="41.1" ry="17.7" fill="#e4f3fa" stroke="#39a8d8" stroke-width="1.3"/>
<text x="476.8" y="1526.3" font-size="16.5" text-anchor="middle" fill="#363636" textLength="45.1" lengthAdjust="spacingAndGlyphs" >SMRT</text>
<ellipse cx="603.8" cy="1504.2" rx="41.3" ry="17.7" fill="#e88a29" stroke="#d77c20" stroke-width="1.3"/>
<text x="603.6" y="1501.2" font-size="16.5" text-anchor="middle" fill="#fff" textLength="47.1" lengthAdjust="spacingAndGlyphs" >HDAC</text>
<text x="603.6" y="1516.9" font-size="16.5" text-anchor="middle" fill="#fff" textLength="67.2" lengthAdjust="spacingAndGlyphs" >Complex</text>
<path d="M517.4,1455Q517.4,1447 525.4,1447L525.6,1447A14.8,15.200000000000001 0 0 0 555.2,1447L556.5,1447Q564.5,1447 564.5,1455L564.5,1535.2A12.05,10.5 0 0 1 540.4,1535.2A11.50,10.5 0 0 1 517.4,1535.2Z" fill="#fdc98f" stroke="#ee8b2c" stroke-width="1.4" stroke-linejoin="round"/>
<line x1="540.4" y1="1461.8" x2="540.4" y2="1535.2" stroke="#ee8b2c" stroke-width="1.3"/>
<text transform="translate(536.1,1496.2) rotate(-90)" font-size="16.5" text-anchor="middle" fill="#363636" textLength="32.7" lengthAdjust="spacingAndGlyphs">RXR</text>
<text transform="translate(558.7,1496.2) rotate(-90)" font-size="16.5" text-anchor="middle" fill="#363636" textLength="22.7" lengthAdjust="spacingAndGlyphs">NR</text>
<path d="M758.1,1549V1515.1H790" fill="none" stroke="#2fa3d6" stroke-width="1.4"/>
<polygon points="799.8,1515.1 789.1,1509.1 789.1,1521.1" fill="#2fa3d6"/>
<path d="M422.7,1546.9V1564.6M431.6,1539.9V1549.7M440.5,1552.4V1539.6M449.4,1565.6V1549.5M458.3,1559.6V1564.5M467.2,1543.4V1562.0M476.1,1541.5V1545.7M485.0,1556.7V1540.2M493.9,1566.1V1553.8M502.8,1555.5V1565.9M511.7,1540.9V1558.4M529.5,1560.6V1542.2M538.4,1565.2V1558.0M547.3,1551.2V1566.0M556.2,1539.7V1554.2M565.1,1548.0V1540.4M574.0,1563.6V1545.4M591.8,1547.1V1564.7M600.7,1539.8V1549.9M609.6,1552.2V1539.6M618.5,1565.6V1549.3M627.4,1559.8V1564.4M636.3,1543.5V1562.1M645.2,1541.4V1545.9M654.1,1556.5V1540.2M663.0,1566.1V1553.6M671.9,1555.7V1565.9M680.8,1541.0V1558.5M698.6,1560.4V1542.1M707.5,1565.3V1557.8M716.4,1551.4V1566.0M725.3,1539.7V1554.4M734.2,1547.8V1540.4M743.1,1563.5V1545.2M760.9,1547.3V1564.8M769.8,1539.8V1550.1M778.7,1552.0V1539.6M787.6,1565.5V1549.1" stroke="#a7b69f" stroke-width="1.3" fill="none"/>
<path d="M427.1,1540.8V1558.3M444.9,1560.7V1542.3M453.8,1565.2V1558.1M462.7,1551.1V1566.0M471.6,1539.6V1554.1M480.5,1548.1V1540.3M489.4,1563.7V1545.4M507.2,1547.0V1564.6M516.1,1539.8V1549.8M525.0,1552.3V1539.6M533.9,1565.6V1549.4M542.9,1559.7V1564.4M551.8,1543.5V1562.0M560.7,1541.4V1545.8M569.6,1556.6V1540.2M578.5,1566.1V1553.7M587.4,1555.6V1565.9M596.3,1540.9V1558.4M614.1,1560.5V1542.2M623.0,1565.3V1557.9M631.9,1551.3V1566.0M640.8,1539.7V1554.3M649.7,1547.9V1540.4M658.6,1563.6V1545.3M676.4,1547.2V1564.7M685.3,1539.8V1550.0M694.2,1552.1V1539.6M703.1,1565.5V1549.2M712.0,1559.8V1564.3M720.9,1543.6V1562.2M729.8,1541.3V1545.9M738.7,1556.4V1540.1M747.6,1566.1V1553.5M756.5,1555.8V1565.9M765.4,1541.0V1558.6M783.2,1560.3V1542.1M792.1,1566.2V1557.7" stroke="#8b9fb4" stroke-width="0.9" fill="none"/>
<path d="M409.0,1566.2C416.7,1566.2 422.4,1539.5 430.1,1539.5C437.9,1539.5 443.6,1566.2 451.3,1566.2C459.0,1566.2 464.7,1539.5 472.4,1539.5C480.2,1539.5 485.9,1566.2 493.6,1566.2C501.3,1566.2 507.0,1539.5 514.8,1539.5C522.5,1539.5 528.2,1566.2 535.9,1566.2C543.6,1566.2 549.3,1539.5 557.0,1539.5C564.8,1539.5 570.5,1566.2 578.2,1566.2C585.9,1566.2 591.6,1539.5 599.4,1539.5C607.1,1539.5 612.8,1566.2 620.5,1566.2C628.2,1566.2 633.9,1539.5 641.6,1539.5C649.4,1539.5 655.1,1566.2 662.8,1566.2C670.5,1566.2 676.2,1539.5 683.9,1539.5C691.7,1539.5 697.4,1566.2 705.1,1566.2C712.8,1566.2 718.5,1539.5 726.2,1539.5C734.0,1539.5 739.7,1566.2 747.4,1566.2C755.1,1566.2 760.8,1539.5 768.5,1539.5C776.3,1539.5 782.0,1566.2 789.7,1566.2" stroke="#2d419d" stroke-width="2.5" fill="none" stroke-linecap="round"/>
<path d="M409.0,1566.2C416.7,1566.2 422.4,1539.5 430.1,1539.5M451.3,1566.2C459.0,1566.2 464.7,1539.5 472.4,1539.5M493.6,1566.2C501.3,1566.2 507.0,1539.5 514.8,1539.5M535.9,1566.2C543.6,1566.2 549.3,1539.5 557.0,1539.5M578.2,1566.2C585.9,1566.2 591.6,1539.5 599.4,1539.5M620.5,1566.2C628.2,1566.2 633.9,1539.5 641.6,1539.5M662.8,1566.2C670.5,1566.2 676.2,1539.5 683.9,1539.5M705.1,1566.2C712.8,1566.2 718.5,1539.5 726.2,1539.5M747.4,1566.2C755.1,1566.2 760.8,1539.5 768.5,1539.5" stroke="#3596e3" stroke-width="1.5" fill="none" stroke-dasharray="1.2 0.8" stroke-dashoffset="-4"/>
<path d="M430.1,1539.5C437.9,1539.5 443.6,1566.2 451.3,1566.2M472.4,1539.5C480.2,1539.5 485.9,1566.2 493.6,1566.2M514.8,1539.5C522.5,1539.5 528.2,1566.2 535.9,1566.2M557.0,1539.5C564.8,1539.5 570.5,1566.2 578.2,1566.2M599.4,1539.5C607.1,1539.5 612.8,1566.2 620.5,1566.2M641.6,1539.5C649.4,1539.5 655.1,1566.2 662.8,1566.2M683.9,1539.5C691.7,1539.5 697.4,1566.2 705.1,1566.2M726.2,1539.5C734.0,1539.5 739.7,1566.2 747.4,1566.2M768.5,1539.5C776.3,1539.5 782.0,1566.2 789.7,1566.2" stroke="#e88f34" stroke-width="1.5" fill="none" stroke-dasharray="1.2 0.8" stroke-dashoffset="-4"/>
<path d="M419.4,1566.2C427.1,1566.2 432.8,1539.5 440.5,1539.5C448.3,1539.5 454.0,1566.2 461.7,1566.2C469.4,1566.2 475.1,1539.5 482.8,1539.5C490.6,1539.5 496.3,1566.2 504.0,1566.2C511.7,1566.2 517.4,1539.5 525.1,1539.5C532.9,1539.5 538.6,1566.2 546.3,1566.2C554.0,1566.2 559.7,1539.5 567.4,1539.5C575.2,1539.5 580.9,1566.2 588.6,1566.2C596.3,1566.2 602.0,1539.5 609.7,1539.5C617.5,1539.5 623.2,1566.2 630.9,1566.2C638.6,1566.2 644.3,1539.5 652.0,1539.5C659.8,1539.5 665.5,1566.2 673.2,1566.2C680.9,1566.2 686.6,1539.5 694.3,1539.5C702.1,1539.5 707.8,1566.2 715.5,1566.2C723.2,1566.2 728.9,1539.5 736.6,1539.5C744.4,1539.5 750.1,1566.2 757.8,1566.2C765.5,1566.2 771.2,1539.5 778.9,1539.5C786.7,1539.5 792.4,1566.2 800.1,1566.2" stroke="#2d419d" stroke-width="2.5" fill="none" stroke-linecap="round"/>
<path d="M419.4,1566.2C427.1,1566.2 432.8,1539.5 440.5,1539.5M461.7,1566.2C469.4,1566.2 475.1,1539.5 482.8,1539.5M504.0,1566.2C511.7,1566.2 517.4,1539.5 525.1,1539.5M546.3,1566.2C554.0,1566.2 559.7,1539.5 567.4,1539.5M588.6,1566.2C596.3,1566.2 602.0,1539.5 609.7,1539.5M630.9,1566.2C638.6,1566.2 644.3,1539.5 652.0,1539.5M673.2,1566.2C680.9,1566.2 686.6,1539.5 694.3,1539.5M715.5,1566.2C723.2,1566.2 728.9,1539.5 736.6,1539.5M757.8,1566.2C765.5,1566.2 771.2,1539.5 778.9,1539.5" stroke="#3596e3" stroke-width="1.5" fill="none" stroke-dasharray="1.2 0.8" stroke-dashoffset="-4"/>
<path d="M440.5,1539.5C448.3,1539.5 454.0,1566.2 461.7,1566.2M482.8,1539.5C490.6,1539.5 496.3,1566.2 504.0,1566.2M525.1,1539.5C532.9,1539.5 538.6,1566.2 546.3,1566.2M567.4,1539.5C575.2,1539.5 580.9,1566.2 588.6,1566.2M609.7,1539.5C617.5,1539.5 623.2,1566.2 630.9,1566.2M652.0,1539.5C659.8,1539.5 665.5,1566.2 673.2,1566.2M694.3,1539.5C702.1,1539.5 707.8,1566.2 715.5,1566.2M736.6,1539.5C744.4,1539.5 750.1,1566.2 757.8,1566.2M778.9,1539.5C786.7,1539.5 792.4,1566.2 800.1,1566.2" stroke="#e88f34" stroke-width="1.5" fill="none" stroke-dasharray="1.2 0.8" stroke-dashoffset="-4"/>
<text x="805.7" y="1512.6" font-size="16.5"  fill="#363636" textLength="204.5" lengthAdjust="spacingAndGlyphs" >Contitutive Transcriptional</text>
<text x="805.7" y="1530.2" font-size="16.5"  fill="#363636" textLength="85.7" lengthAdjust="spacingAndGlyphs" >Repression</text>
<rect x="0" y="1611.4" width="1296" height="116.59999999999991" fill="#f4f5f7"/>
<rect x="0" y="1611" width="1296" height="1" fill="#d9dadc"/>
<rect x="0" y="1727" width="1296" height="1" fill="#e3e4e6"/>
<clipPath id="cf"><rect x="1100" y="1612.0" width="196" height="116.59999999999991"/></clipPath>
<g clip-path="url(#cf)">
<clipPath id="cfr"><rect x="1240" y="1600" width="60" height="130"/></clipPath>
<path d="M1234,1600 a80,80 0 1 0 0.01,0Z M1234.4,1606.1 a67.8,67.8 0 1 0 0.01,0Z" fill="#f3d9bd" fill-rule="evenodd" clip-path="url(#cfr)"/>
<clipPath id="cfb"><rect x="1183" y="1600" width="120" height="130"/></clipPath>
<circle cx="1229.8" cy="1680.8" r="64.2" fill="#cbdfed" clip-path="url(#cfb)"/>
<path d="M1266,1689 C1273,1693 1276,1700 1273,1708 C1271,1715 1267,1722 1262,1729" fill="none" stroke="#f4f5f7" stroke-width="5"/>
<path d="M1182,1688 C1184,1704 1190,1716 1198,1728 L1208,1728 L1196,1688 Z" fill="#f4f5f7"/>
<path d="M1170,1686 C1169,1704 1177,1720 1187,1730 L1199,1730 C1191,1718 1185,1704 1182.5,1690 Z" fill="#dde9c4"/>
</g>
<text x="34.9" y="1659.4" font-size="43"  fill="#303030" textLength="26.8" lengthAdjust="spacingAndGlyphs" stroke="#f4f5f7" stroke-width="0.9">B</text>
<text x="98.1" y="1659.4" font-size="43"  fill="#303030" textLength="95.6" lengthAdjust="spacingAndGlyphs" stroke="#f4f5f7" stroke-width="0.9">STER</text>
<clipPath id="lg1"><path d="M40,1600H130V1690H40Z M79.7,1629.2 a15.3,15.3 0 1 0 0.01,0Z" clip-rule="evenodd"/></clipPath>
<circle cx="78.3" cy="1645.4" r="17.5" fill="#8dc63f" clip-path="url(#lg1)"/>
<circle cx="81.8" cy="1642.8" r="17.2" fill="#ee8b22" clip-path="url(#lg1)"/>
<circle cx="79.7" cy="1644.5" r="14.2" fill="#31a6da"/>
<path d="M76,1632.4 C76.3,1636 77,1640 77,1642.1 C76.5,1647 72,1649.5 66.8,1650.6 M76,1632.4 C80,1632.2 82,1634 81.6,1635.6 C81.3,1637.5 79.5,1638.6 77.6,1639 C83,1640 88,1644 88.3,1649 C88.5,1653 87,1656 84.3,1658.2" fill="none" stroke="#fff" stroke-width="1.6" stroke-linecap="round"/>
<text x="38.6" y="1674.9" font-size="12.6"  fill="#4aaee0" textLength="153.5" lengthAdjust="spacingAndGlyphs" >antibody and ELISA experts</text>
<text x="47.0" y="1705.3" font-size="13.4"  fill="#a3a3a3" textLength="136.3" lengthAdjust="spacingAndGlyphs" >© All rights reserved.</text>
<rect x="213" y="1625" width="1" height="85.5" fill="#cfd0d2"/>
<rect x="657.3" y="1625" width="1" height="85.5" fill="#cfd0d2"/>
<text x="231.7" y="1643.5" font-size="20"  fill="#e98b2a" textLength="343.7" lengthAdjust="spacingAndGlyphs" stroke="#e98b2a" stroke-width="0.35">Nuclear Receptor Signaling Pathway</text>
<text x="231.7" y="1704.6" font-size="13.6"  fill="#454545" textLength="203.5" lengthAdjust="spacingAndGlyphs" >For more pathways, please visit</text>
<text x="438.9" y="1704.6" font-size="13.6"  fill="#e98b2a" textLength="197.6" lengthAdjust="spacingAndGlyphs" >www.bosterbio.com/pathways</text>
<text x="722.5" y="1649.6" font-size="14.4"  fill="#363636" textLength="47.9" lengthAdjust="spacingAndGlyphs" >Binding</text>
<text x="722.5" y="1672.1" font-size="14.4"  fill="#363636" textLength="68.4" lengthAdjust="spacingAndGlyphs" >Regulation</text>
<text x="722.5" y="1694.6" font-size="14.4"  fill="#363636" textLength="78.3" lengthAdjust="spacingAndGlyphs" >Modification</text>
<text x="857.5" y="1649.6" font-size="14.4"  fill="#363636" textLength="68.6" lengthAdjust="spacingAndGlyphs" >Expression</text>
<text x="857.5" y="1672.1" font-size="14.4"  fill="#363636" textLength="110.6" lengthAdjust="spacingAndGlyphs" >Related Pathway</text>
<text x="857.5" y="1694.6" font-size="14.4"  fill="#363636" textLength="61.2" lengthAdjust="spacingAndGlyphs" >Transport</text>
<text x="1029.6" y="1649.6" font-size="14.4"  fill="#363636" textLength="55.6" lengthAdjust="spacingAndGlyphs" >Reaction</text>
<text x="1029.6" y="1672.1" font-size="14.4"  fill="#363636" textLength="78.0" lengthAdjust="spacingAndGlyphs" >Membership</text>
<text x="1029.6" y="1694.6" font-size="14.4"  fill="#363636" textLength="117.5" lengthAdjust="spacingAndGlyphs" >Unknown Relation</text>
<line x1="681.5" y1="1644" x2="715.6" y2="1644" stroke="#e98b2a" stroke-width="1.5"/>
<line x1="681.5" y1="1666.4" x2="706.6" y2="1666.4" stroke="#2fa3d6" stroke-width="1.4"/>
<polygon points="715.6,1666.4 705.4,1660.6 705.4,1672.2" fill="#2fa3d6"/>
<path d="M681.5,1689.9H693.3" fill="none" stroke="#e98b2a" stroke-width="1.3"/>
<path d="M693.3,1689.9L698.3,1685.5L708.1,1694.1000000000001L715.6,1689.4" fill="none" stroke="#e98b2a" stroke-width="2.2" stroke-linejoin="miter"/>
<line x1="816.3" y1="1644" x2="840.6" y2="1644" stroke="#2fa3d6" stroke-width="1.3"/>
<polygon points="849.3000000000001,1644 840.5,1639.2 840.5,1648.8" fill="#fff" stroke="#2fa3d6" stroke-width="1.3"/>
<line x1="816.3" y1="1667.4" x2="831" y2="1667.4" stroke="#2fa3d6" stroke-width="1.3"/>
<path d="M829.9,1663.2 L835.2,1660.2 Q836.8,1659.3 837.8,1660.6 L838.9,1661.9 L850,1662.1 L851,1663.4 L849.8,1664.7 L842.9,1665.3 L839.8,1672.5 Q837.5,1673.3 835,1672.9 L829.9,1671.6 Z" fill="#2fa3d6"/>
<line x1="816.3" y1="1689.9" x2="841.1" y2="1689.9" stroke="#e98b2a" stroke-width="2.2"/>
<polygon points="850.1,1689.9 839.7,1683.9 839.7,1695.9" fill="#e98b2a"/>
<line x1="988.4" y1="1644" x2="1021.5" y2="1644" stroke="#e98b2a" stroke-width="1.4"/>
<path d="M1010.5,1637.8L1017.0,1644L1010.5,1650.2M1015.7,1637.8L1022.2,1644L1015.7,1650.2" fill="none" stroke="#e98b2a" stroke-width="1.4"/>
<line x1="988.4" y1="1666.4" x2="1012.5" y2="1666.4" stroke="#86a83a" stroke-width="1.4"/>
<polygon points="1021.7,1666.4 1012.1,1660.8000000000002 1012.1,1672.0" fill="#c3dc6c" stroke="#86a83a" stroke-width="1.3"/>
<line x1="988.4" y1="1689.9" x2="1012.5" y2="1689.9" stroke="#86a83a" stroke-width="1.4"/>
<circle cx="998.3" cy="1689.9" r="4.6" fill="#fff" stroke="#86a83a" stroke-width="1.3"/>
<polygon points="1021.7,1689.9 1012.1,1684.3000000000002 1012.1,1695.5" fill="#fff" stroke="#86a83a" stroke-width="1.3"/>
<defs><linearGradient id="lens" x1="0" y1="0" x2="0" y2="1"><stop offset="0" stop-color="#2f8fbd"/><stop offset="0.45" stop-color="#62adc6"/><stop offset="0.8" stop-color="#cfdf9a"/><stop offset="1" stop-color="#e6ea7e"/></linearGradient><linearGradient id="ball" x1="0" y1="0" x2="0" y2="1"><stop offset="0" stop-color="#d3dce4"/><stop offset="0.55" stop-color="#dde3e2"/><stop offset="1" stop-color="#dfe6a8"/></linearGradient><linearGradient id="iris" x1="0" y1="0" x2="0" y2="1"><stop offset="0" stop-color="#136a84"/><stop offset="1" stop-color="#8fb59c"/></linearGradient></defs>
<ellipse cx="1221" cy="1725" rx="42" ry="2.8" fill="#878d96"/>
<path d="M1180.1,1655.2 L1167.5,1644.7 L1176.3,1644.4 L1174.1,1625.6 L1177.9,1631.9 C1180.1,1618.1 1189.1,1603.1 1200.6,1589.5 C1200.3,1594.0 1201.1,1597.0 1202.1,1599.0 L1203.3,1597.0 C1207.2,1603.1 1217.2,1604.6 1226.4,1607.9 C1226.4,1604.1 1224.2,1600.0 1220.7,1598.5 C1231.2,1601.0 1243.3,1607.1 1248.8,1616.1 L1250.8,1609.6 C1253.8,1614.1 1255.3,1619.1 1255.8,1624.3 L1259.8,1621.9 L1263.8,1621.6 C1266.3,1627.1 1265.8,1635.2 1262.8,1639.2 L1257.3,1640.0 C1264.3,1640.7 1268.4,1645.2 1266.8,1651.2 C1265.8,1655.2 1262.3,1656.7 1260.3,1655.2 L1255.3,1649.2 L1225.2,1645.2 Z" fill="#fff" stroke="#0b566b" stroke-width="1.3" stroke-linejoin="round"/>
<path d="M1193.1,1605.6 C1191.1,1615.1 1197.1,1625.1 1205.2,1631.6 M1198.6,1608.6 C1198.1,1617.1 1202.1,1625.1 1207.2,1629.6 M1207.2,1614.1 C1212.2,1617.1 1214.7,1623.1 1215.2,1628.1 M1226.7,1607.1 C1227.4,1611.1 1226.8,1614.1 1226.4,1615.6 M1250.5,1610.1 C1251.0,1617.1 1250.0,1623.1 1248.8,1627.1 M1174.3,1626.1 C1175.1,1632.1 1177.6,1637.2 1180.6,1639.7 M1256.3,1624.9 L1253.8,1626.9 M1259.8,1621.9 L1257.3,1629.1 L1262.8,1627.1 M1259.3,1649.2 C1260.3,1646.2 1263.8,1646.2 1264.3,1649.2 C1264.5,1651.2 1262.8,1652.4 1261.5,1651.7 " fill="none" stroke="#0b566b" stroke-width="1.1" stroke-linecap="round"/>
<path d="M1202.1,1599.5 C1203.1,1605.1 1207.2,1610.1 1210.9,1612.3 C1207.2,1608.1 1204.7,1604.1 1203.3,1597.2 Z" fill="#0b566b"/>
<path d="M1187.4,1689.1 C1183.7,1685.8 1180.9,1685.8 1179.1,1686.8 L1173.5,1689.8 C1170.3,1687.2 1168.0,1684.0 1165.6,1678.0 C1163.8,1672.4 1163.3,1667.8 1163.8,1663.6 C1164.3,1660.4 1167.0,1657.1 1170.3,1656.2 C1173.5,1655.7 1177.2,1656.2 1178.8,1659.9 C1179.8,1663.1 1178.1,1665.9 1174.9,1667.8 C1172.6,1668.2 1170.3,1667.3 1168.9,1665.9 L1173.5,1681.7 C1175.8,1679.4 1180.0,1677.5 1185.6,1677.0 L1190.2,1681.7 Z" fill="#55c1ec" stroke="#0b566b" stroke-width="1.4" stroke-linejoin="round"/>
<path d="M1167.1,1665.4 L1168.9,1665.9 L1173.5,1681.7 L1172.2,1682.5 C1169.4,1678.0 1167.7,1672.4 1167.1,1665.4 Z" fill="#2394b6"/>
<path d="M1176.8,1656.8 C1180.2,1660.4 1179.1,1665.9 1174.7,1667.7 C1176.8,1665.0 1177.2,1660.4 1175.0,1657.2 Z" fill="#2394b6"/>
<path d="M1168.9,1665.9 C1170.7,1667.3 1173.1,1668.1 1174.9,1667.8 " fill="none" stroke="#0b566b" stroke-width="1.2"/>
<path d="M1165.1,1664.1 C1164.6,1670.1 1167.1,1678.4 1173.1,1688.1 " fill="none" stroke="#f1f2a6" stroke-width="1.1"/>
<path d="M1173.3,1671.9 L1181.6,1671.2 L1183.9,1677.0 L1176.1,1678.9 Z" fill="#e3eec6" stroke="#0b566b" stroke-width="0.7"/>
<path d="M1172.6,1669.6 C1174.9,1670.6 1178.1,1670.2 1180.0,1667.9 L1181.0,1669.6 C1178.6,1672.0 1174.9,1672.0 1172.6,1669.6 Z" fill="#fff"/>
<path d="M1173.8,1681.8 C1175.8,1679.4 1180.0,1677.7 1184.6,1677.3 L1186.9,1679.6 " fill="none" stroke="#f1f2a6" stroke-width="1.1"/>
<path d="M1260.3,1659.1 C1262.8,1666.1 1265.3,1673.1 1271.4,1682.1 L1274.1,1685.6 C1273.4,1689.2 1267.3,1691.7 1263.3,1693.2 C1260.3,1694.7 1258.3,1696.2 1256.3,1697.9 C1254.3,1699.7 1250.3,1700.2 1248.3,1698.2 C1245.8,1695.2 1247.3,1691.2 1250.3,1687.1 L1253.8,1674.6 Z" fill="#2394b6" stroke="#0b566b" stroke-width="1.3" stroke-linejoin="round"/>
<clipPath id="bodyc"><path d="M1185.1,1681.1 C1187.1,1688.1 1193.1,1700.2 1199.1,1710.2 C1199.1,1714.2 1197.1,1717.2 1195.1,1719.2 C1192.6,1720.2 1190.6,1721.8 1190.6,1723.3 C1195.1,1725.3 1205.2,1725.3 1209.7,1724.1 C1210.2,1720.2 1212.7,1714.7 1215.7,1709.4 C1220.2,1708.2 1225.2,1708.7 1229.4,1709.9 C1234.2,1713.2 1236.8,1716.7 1238.5,1719.2 C1235.8,1720.2 1233.2,1721.8 1232.4,1723.5 C1238.3,1725.3 1245.3,1725.3 1249.8,1723.5 C1249.3,1717.2 1247.3,1709.2 1245.8,1700.2 C1246.3,1695.2 1251.3,1687.1 1253.8,1674.6 L1260.3,1659.1 C1257.3,1648.0 1253.3,1640.0 1245.3,1635.0 C1237.3,1630.0 1227.2,1628.5 1219.2,1628.9 C1209.2,1629.3 1199.1,1635.0 1193.1,1641.2 C1185.1,1650.0 1179.1,1659.1 1180.1,1670.1 Z"/></clipPath>
<path d="M1185.1,1681.1 C1187.1,1688.1 1193.1,1700.2 1199.1,1710.2 C1199.1,1714.2 1197.1,1717.2 1195.1,1719.2 C1192.6,1720.2 1190.6,1721.8 1190.6,1723.3 C1195.1,1725.3 1205.2,1725.3 1209.7,1724.1 C1210.2,1720.2 1212.7,1714.7 1215.7,1709.4 C1220.2,1708.2 1225.2,1708.7 1229.4,1709.9 C1234.2,1713.2 1236.8,1716.7 1238.5,1719.2 C1235.8,1720.2 1233.2,1721.8 1232.4,1723.5 C1238.3,1725.3 1245.3,1725.3 1249.8,1723.5 C1249.3,1717.2 1247.3,1709.2 1245.8,1700.2 C1246.3,1695.2 1251.3,1687.1 1253.8,1674.6 L1260.3,1659.1 C1257.3,1648.0 1253.3,1640.0 1245.3,1635.0 C1237.3,1630.0 1227.2,1628.5 1219.2,1628.9 C1209.2,1629.3 1199.1,1635.0 1193.1,1641.2 C1185.1,1650.0 1179.1,1659.1 1180.1,1670.1 Z" fill="#2394b6"/>
<path d="M1175.1,1625.0 L1235.2,1625.0 C1245.3,1640.0 1243.3,1665.1 1237.3,1673.1 C1234.2,1687.1 1225.2,1693.2 1207.2,1695.2 C1205.2,1702.2 1208.2,1710.2 1205.2,1725.3 L1175.1,1725.3 Z" fill="#55c1ec" clip-path="url(#bodyc)"/>
<path d="M1185.1,1681.1 C1187.1,1688.1 1193.1,1700.2 1199.1,1710.2 C1199.1,1714.2 1197.1,1717.2 1195.1,1719.2 C1192.6,1720.2 1190.6,1721.8 1190.6,1723.3 C1195.1,1725.3 1205.2,1725.3 1209.7,1724.1 C1210.2,1720.2 1212.7,1714.7 1215.7,1709.4 C1220.2,1708.2 1225.2,1708.7 1229.4,1709.9 C1234.2,1713.2 1236.8,1716.7 1238.5,1719.2 C1235.8,1720.2 1233.2,1721.8 1232.4,1723.5 C1238.3,1725.3 1245.3,1725.3 1249.8,1723.5 C1249.3,1717.2 1247.3,1709.2 1245.8,1700.2 C1246.3,1695.2 1251.3,1687.1 1253.8,1674.6 L1260.3,1659.1 C1257.3,1648.0 1253.3,1640.0 1245.3,1635.0 C1237.3,1630.0 1227.2,1628.5 1219.2,1628.9 C1209.2,1629.3 1199.1,1635.0 1193.1,1641.2 C1185.1,1650.0 1179.1,1659.1 1180.1,1670.1 Z" fill="none" stroke="#0b566b" stroke-width="1.3" stroke-linejoin="round"/>
<path d="M1253.8,1674.6 L1264.1,1681.3 C1259.3,1684.1 1255.3,1685.1 1251.5,1687.3 Z" fill="#0b566b"/>
<path d="M1248.1,1698.0 C1245.8,1695.2 1247.3,1690.7 1251.5,1687.3 C1255.3,1685.1 1260.3,1684.1 1264.1,1681.3 " fill="none" stroke="#0b566b" stroke-width="1.1"/>
<path d="M1248.5,1697.7 C1246.8,1694.7 1248.1,1691.2 1251.8,1688.1 C1255.3,1686.3 1261.3,1684.6 1266.3,1684.8 C1263.3,1687.6 1258.3,1689.7 1255.3,1693.2 C1256.1,1696.2 1254.3,1699.0 1251.3,1699.4 Z" fill="#3fabd2"/>
<path d="M1198.1,1682.6 C1207.2,1685.6 1225.2,1685.1 1238.3,1673.1 C1235.2,1685.1 1225.2,1690.2 1217.2,1689.2 C1211.2,1688.1 1205.2,1686.1 1198.1,1682.6 Z" fill="#0b566b"/>
<path d="M1209.7,1694.7 C1214.2,1693.2 1216.2,1696.2 1218.7,1697.7 C1222.2,1696.2 1227.2,1694.2 1230.2,1695.2 C1232.2,1699.2 1230.2,1704.2 1227.2,1704.2 C1224.2,1703.2 1222.2,1701.2 1219.2,1701.0 C1216.2,1701.7 1213.2,1703.2 1209.7,1701.7 C1207.2,1699.2 1207.7,1696.2 1209.7,1694.7 Z" fill="#f7941d" stroke="#0b566b" stroke-width="1.2" stroke-linejoin="round"/>
<path d="M1215.2,1697.2 L1214.7,1701.2 M1219.2,1697.7 L1220.7,1701.2 M1223.2,1696.7 L1223.7,1701.7 " fill="none" stroke="#0b566b" stroke-width="1"/>
<path d="M1187.3,1637.0 C1190.1,1631.1 1195.1,1629.9 1197.9,1630.9 C1197.1,1633.1 1193.1,1634.2 1188.6,1638.2 Z" fill="#0b566b"/>
<path d="M1228.0,1620.9 C1232.2,1618.6 1238.3,1621.1 1240.1,1625.3 C1235.2,1623.6 1232.2,1623.1 1228.2,1622.9 Z" fill="#0b566b"/>
<circle cx="1197.2" cy="1659.5" r="17.7" fill="url(#lens)" stroke="#0b566b" stroke-width="1.7"/>
<circle cx="1197.2" cy="1659.5" r="15.799999999999999" fill="none" stroke="#1d7f9f" stroke-opacity="0.45" stroke-width="2.2"/>
<ellipse cx="1200.5" cy="1660.9" rx="10.6" ry="14" fill="url(#ball)"/>
<ellipse cx="1200.5" cy="1660.9" rx="9.4" ry="12.6" fill="none" stroke="#ffffff" stroke-opacity="0.45" stroke-width="1.2"/>
<circle cx="1202.9" cy="1661.3" r="7.4" fill="url(#iris)"/>
<path d="M1203.5,1660.1 L1206.1000000000001,1654.1 L1210.5,1659.5 Z" fill="#d9e1e4"/>
<circle cx="1205.1000000000001" cy="1659.7" r="2.3" fill="#d9e1e4"/>
<circle cx="1236.1" cy="1651.9" r="17.9" fill="url(#lens)" stroke="#0b566b" stroke-width="1.7"/>
<circle cx="1236.1" cy="1651.9" r="15.999999999999998" fill="none" stroke="#1d7f9f" stroke-opacity="0.45" stroke-width="2.2"/>
<ellipse cx="1233.8" cy="1652.9" rx="11" ry="13.4" fill="url(#ball)"/>
<ellipse cx="1233.8" cy="1652.9" rx="9.8" ry="12.0" fill="none" stroke="#ffffff" stroke-opacity="0.45" stroke-width="1.2"/>
<circle cx="1232.4" cy="1653.6" r="7.4" fill="url(#iris)"/>
<path d="M1233.0,1652.3999999999999 L1235.6000000000001,1646.3999999999999 L1240.0,1651.8 Z" fill="#d9e1e4"/>
<circle cx="1234.6000000000001" cy="1652.0" r="2.3" fill="#d9e1e4"/>
</svg></body></html>
